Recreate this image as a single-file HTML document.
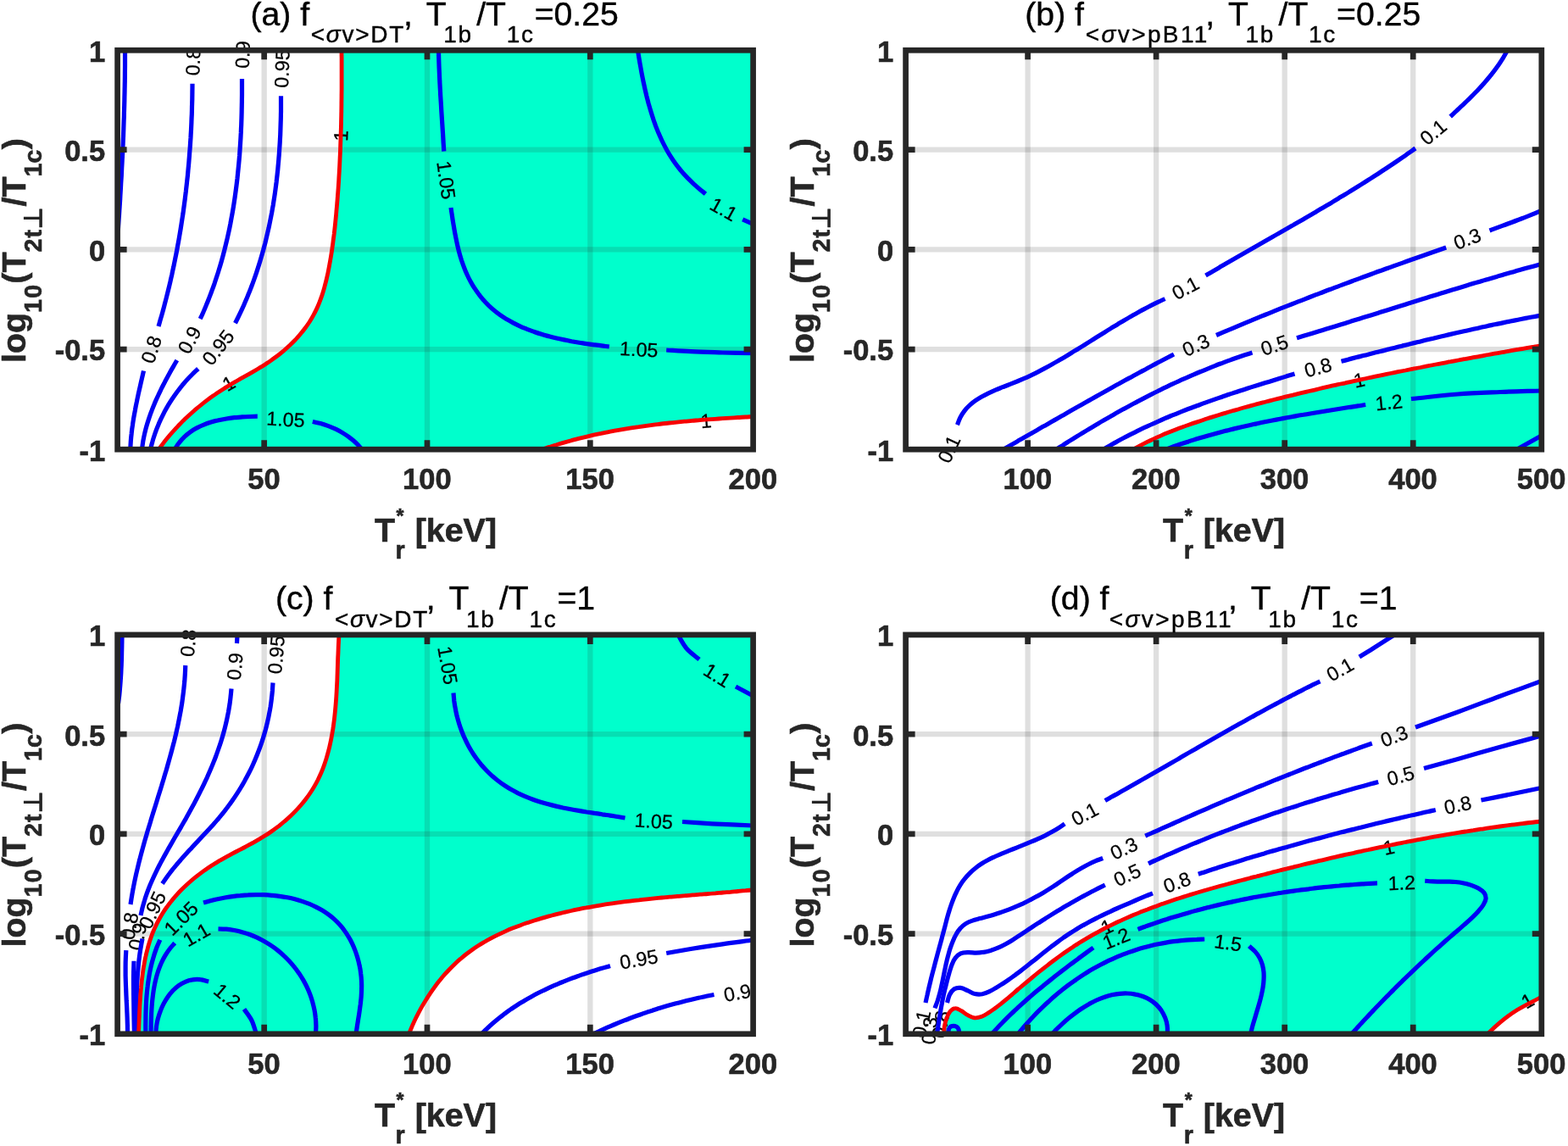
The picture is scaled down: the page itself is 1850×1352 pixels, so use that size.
<!DOCTYPE html>
<html lang="en"><head><meta charset="utf-8"><title>Fusion reactivity enhancement factor contours</title>
<style>html,body{margin:0;padding:0;background:#fff}body{width:1850px;height:1352px;overflow:hidden}svg{display:block}text{font-family:'Liberation Sans', Arial, Helvetica, sans-serif}.tk{font-weight:bold;font-size:34.5px;fill:#262626;stroke:#262626;stroke-width:0.6px}.lb{font-weight:bold;font-size:39.4px;fill:#262626;stroke:#262626;stroke-width:0.6px}.tt{font-size:39.2px;fill:#000;stroke:#000;stroke-width:0.4px}.sb{font-size:28.0px;letter-spacing:1.7px}.ls{font-size:28.6px;letter-spacing:1.2px}.cl{font-size:23.3px;fill:#000;text-anchor:middle;stroke:#000;stroke-width:0.25px}.b{fill:none;stroke:#0000F5;stroke-width:5.2;stroke-linecap:butt;stroke-linejoin:round}.r{fill:none;stroke:#F80000;stroke-width:4.8;stroke-linecap:butt;stroke-linejoin:round}.g{stroke:#262626;stroke-opacity:0.15;stroke-width:6.3;fill:none}.ax{stroke:#262626;stroke-width:6.7;fill:none}</style></head><body>
<svg xmlns="http://www.w3.org/2000/svg" width="1850" height="1352" viewBox="0 0 1850 1352">
<rect width="1850" height="1352" fill="#fff"/>
<g id="panel-a">
<clipPath id="clip-a"><rect x="138.6" y="59.3" width="750" height="470.9"/></clipPath>
<g clip-path="url(#clip-a)">
<path d="M403 59.3C403 62.3 403 65.3 403.1 68.3C403.1 71.3 403.1 74.3 403.1 77.3C403.1 80.4 403.1 83.4 403.1 86.4C403.1 89.4 403.1 92.4 403.1 95.4C403.1 98.5 403.1 101.5 403.1 104.5C403.1 107.5 403 110.5 403 113.5C403 116.6 402.9 119.6 402.9 122.6C402.9 125.6 402.8 128.6 402.8 131.7C402.7 134.7 402.7 137.7 402.6 140.7C402.5 143.8 402.5 146.8 402.4 149.8C402.3 152.8 402.2 155.8 402.1 158.9C402 161.9 402 164.9 401.8 167.9C401.7 170.9 401.6 174 401.5 177C401.4 180 401.3 183 401.1 186C401 189 400.8 192.1 400.7 195.1C400.5 198.1 400.4 201.1 400.2 204.1C400 207.1 399.8 210.1 399.7 213.1C399.5 216.1 399.3 219.1 399.1 222.1C398.9 225.1 398.6 228.2 398.4 231.2C398.2 234.1 398 237.1 397.7 240.1C397.5 243.1 397.2 246.1 396.9 249.1C396.7 252.1 396.4 255.1 396.1 258.1C395.8 261.1 395.5 264.1 395.2 267C394.9 270 394.5 273 394.2 276C393.8 279 393.4 282 393 284.9C392.7 287.9 392.2 290.9 391.8 293.9C391.4 296.9 390.9 299.9 390.4 302.9C389.9 305.9 389.4 308.9 388.8 311.9C388.3 314.9 387.7 317.9 387.1 320.9C386.5 323.9 385.8 326.9 385.1 329.9C384.4 332.9 383.6 335.8 382.8 338.8C382 341.7 381.1 344.7 380.2 347.6C379.2 350.4 378.2 353.3 377.1 356.1C376 358.9 374.9 361.7 373.6 364.4C372.3 367.1 371 369.8 369.5 372.4C368.1 375 366.6 377.5 365 380C363.3 382.5 361.6 385 359.9 387.3C358.1 389.7 356.2 392 354.3 394.3C352.4 396.6 350.4 398.8 348.4 401C346.3 403.1 344.2 405.2 342 407.3C339.8 409.3 337.6 411.3 335.3 413.3C333 415.2 330.7 417.1 328.3 419C325.9 420.8 323.5 422.6 321 424.3C318.6 426.1 316.1 427.8 313.5 429.4C311 431.1 308.4 432.7 305.8 434.2C303.2 435.8 300.6 437.3 298 438.8C295.3 440.4 292.7 441.9 290 443.4C287.4 444.9 284.8 446.3 282.1 447.8C279.5 449.4 276.8 450.9 274.2 452.4C271.6 453.9 269 455.5 266.4 457.1C263.9 458.7 261.3 460.3 258.8 462C256.3 463.6 253.8 465.4 251.3 467.1C248.9 468.8 246.4 470.6 244 472.4C241.6 474.2 239.2 476.1 236.9 478C234.5 479.9 232.2 481.8 229.9 483.7C227.7 485.7 225.4 487.7 223.2 489.7C221 491.8 218.8 493.8 216.6 495.9C214.5 498 212.4 500.2 210.3 502.3C208.2 504.5 206.2 506.7 204.2 509C202.2 511.2 200.2 513.5 198.3 515.8C196.3 518.2 194.4 520.5 192.6 522.9C190.7 525.3 189 527.8 187.2 530.2L639.5 530.2C642.4 529.3 645.2 528.3 648.1 527.4C650.9 526.5 653.8 525.5 656.7 524.7C659.6 523.8 662.5 522.9 665.4 522.1C668.2 521.3 671.1 520.5 674 519.7C677 518.9 679.9 518.1 682.8 517.4C685.7 516.7 688.6 516 691.5 515.3C694.5 514.6 697.4 513.9 700.3 513.2C703.3 512.6 706.2 512 709.1 511.4C712.1 510.7 715 510.2 718 509.6C720.9 509 723.9 508.5 726.9 507.9C729.8 507.4 732.8 506.9 735.8 506.4C738.7 505.9 741.7 505.4 744.7 504.9C747.6 504.4 750.6 504 753.6 503.6C756.6 503.1 759.6 502.7 762.6 502.3C765.5 501.9 768.5 501.5 771.5 501.1C774.5 500.7 777.5 500.4 780.5 500C783.5 499.7 786.5 499.3 789.5 499C792.5 498.7 795.5 498.4 798.5 498.1C801.5 497.8 804.5 497.5 807.5 497.2C810.5 496.9 813.5 496.7 816.5 496.4C819.5 496.1 822.5 495.9 825.5 495.6C828.5 495.4 831.5 495.2 834.6 494.9C837.6 494.7 840.6 494.5 843.6 494.3C846.6 494.1 849.6 493.9 852.6 493.7C855.6 493.5 858.6 493.3 861.6 493.1C864.6 492.9 867.6 492.7 870.6 492.5C873.6 492.3 876.6 492.2 879.6 492C882.6 491.8 885.6 491.7 888.6 491.5L888.6 59.3Z" fill="#00FFCC"/>
<path class="g" d="M311.7 59.3V530.2M504 59.3V530.2M696.3 59.3V530.2"/>
<path class="g" d="M138.6 176.6H888.6M138.6 294.4H888.6M138.6 412.1H888.6"/>
</g>
<text class="cl" transform="translate(228 73) rotate(-88)" y="7.8">0.8</text>
<text class="cl" transform="translate(178.8 412.5) rotate(-72)" y="7.8">0.8</text>
<text class="cl" transform="translate(286.5 64.5) rotate(-88)" y="7.8">0.9</text>
<text class="cl" transform="translate(223.8 401.2) rotate(-62)" y="7.8">0.9</text>
<text class="cl" transform="translate(333 81) rotate(-88)" y="7.8">0.95</text>
<text class="cl" transform="translate(257.5 410) rotate(-52)" y="7.8">0.95</text>
<text class="cl" transform="translate(402.5 160) rotate(-87)" y="7.8">1</text>
<text class="cl" transform="translate(270 452.5) rotate(-30)" y="7.8">1</text>
<text class="cl" transform="translate(526.2 212.5) rotate(82)" y="7.8">1.05</text>
<text class="cl" transform="translate(753.8 412.5) rotate(3)" y="7.8">1.05</text>
<text class="cl" transform="translate(853.8 247) rotate(29)" y="7.8">1.1</text>
<text class="cl" transform="translate(337 495) rotate(3)" y="7.8">1.05</text>
<text class="cl" transform="translate(833 497) rotate(-5)" y="7.8">1</text>
<g clip-path="url(#clip-a)">
<path class="b" d="M147.5 59.3C147.5 62.4 147.5 65.5 147.5 68.6C147.5 71.6 147.5 74.7 147.5 77.8C147.5 80.9 147.4 84 147.4 87.1C147.4 90.2 147.3 93.2 147.3 96.3C147.2 99.4 147.2 102.5 147.1 105.6C147.1 108.7 147 111.8 146.9 114.8C146.9 117.9 146.8 121 146.7 124.1C146.6 127.2 146.5 130.3 146.4 133.3C146.4 136.4 146.3 139.5 146.1 142.6C146 145.7 145.9 148.8 145.8 151.8C145.7 154.9 145.6 158 145.5 161.1C145.3 164.2 145.2 167.3 145.1 170.3C144.9 173.4 144.8 176.5 144.7 179.6C144.5 182.7 144.4 185.8 144.2 188.8C144.1 191.9 143.9 195 143.7 198.1C143.6 201.2 143.4 204.2 143.3 207.3C143.1 210.4 142.9 213.5 142.7 216.6C142.6 219.6 142.4 222.7 142.2 225.8C142 228.9 141.8 232 141.7 235.1C141.5 238.1 141.3 241.2 141.1 244.3C140.9 247.4 140.7 250.4 140.5 253.5C140.3 256.6 140.1 259.7 139.9 262.8C139.7 265.8 139.5 268.9 139.3 272"/>
<path class="b" d="M227 98.8C227 101.8 227 104.8 226.9 107.8C226.9 110.8 226.8 113.9 226.8 116.9C226.7 119.9 226.6 122.9 226.5 125.9C226.5 129 226.4 132 226.3 135C226.1 138 226 141 225.9 144.1C225.8 147.1 225.6 150.1 225.5 153.1C225.3 156.1 225.1 159.1 225 162.2C224.8 165.2 224.6 168.2 224.4 171.2C224.2 174.2 224 177.2 223.7 180.2C223.5 183.3 223.3 186.3 223 189.3C222.8 192.3 222.5 195.3 222.2 198.3C221.9 201.3 221.7 204.3 221.4 207.3C221.1 210.3 220.7 213.3 220.4 216.3C220.1 219.3 219.7 222.3 219.4 225.3C219 228.3 218.7 231.3 218.3 234.3C217.9 237.3 217.5 240.3 217.1 243.3C216.7 246.3 216.3 249.3 215.9 252.3C215.4 255.3 215 258.3 214.5 261.2C214.1 264.2 213.6 267.2 213.1 270.2C212.6 273.2 212.1 276.2 211.6 279.1C211.1 282.1 210.6 285.1 210 288C209.5 291 208.9 294 208.4 296.9C207.8 299.9 207.2 302.9 206.6 305.8C206 308.8 205.4 311.8 204.8 314.7C204.1 317.7 203.5 320.6 202.9 323.6C202.2 326.5 201.5 329.5 200.9 332.4C200.2 335.3 199.5 338.3 198.8 341.2C198.1 344.2 197.3 347.1 196.6 350C195.9 352.9 195.1 355.9 194.3 358.8C193.6 361.7 192.8 364.6 192 367.6C191.2 370.5 190.4 373.4 189.5 376.3C188.7 379.2 187.8 382.1 187 385"/>
<path class="b" d="M169.5 437.5C168.8 440.5 168.1 443.6 167.4 446.6C166.7 449.7 166 452.7 165.3 455.8C164.6 458.9 163.9 461.9 163.2 465C162.6 468 161.9 471.1 161.3 474.2C160.6 477.3 160 480.3 159.5 483.4C158.9 486.5 158.3 489.6 157.8 492.7C157.3 495.7 156.8 498.8 156.4 501.9C155.9 505 155.5 508.1 155.2 511.3C154.8 514.4 154.5 517.5 154.3 520.6C154.1 523.7 153.9 526.9 153.8 530"/>
<path class="b" d="M285.5 93C285.5 96 285.5 99 285.5 102C285.5 105 285.5 108.1 285.5 111.1C285.5 114.1 285.4 117.1 285.4 120.1C285.3 123.1 285.3 126.2 285.2 129.2C285.2 132.2 285.1 135.2 285 138.2C284.9 141.3 284.8 144.3 284.7 147.3C284.5 150.3 284.4 153.3 284.3 156.4C284.1 159.4 284 162.4 283.8 165.4C283.6 168.4 283.4 171.5 283.2 174.5C283 177.5 282.8 180.5 282.6 183.5C282.3 186.5 282.1 189.6 281.8 192.6C281.5 195.6 281.2 198.6 280.9 201.6C280.6 204.6 280.3 207.6 280 210.6C279.6 213.6 279.3 216.6 278.9 219.6C278.5 222.6 278.1 225.6 277.7 228.6C277.3 231.6 276.9 234.6 276.4 237.6C276 240.5 275.5 243.5 275 246.5C274.5 249.5 274 252.4 273.4 255.4C272.9 258.4 272.3 261.3 271.8 264.3C271.2 267.2 270.6 270.2 270 273.1C269.3 276.1 268.7 279 268 282C267.3 284.9 266.6 287.8 265.9 290.7C265.2 293.7 264.4 296.6 263.7 299.5C262.9 302.4 262.1 305.3 261.3 308.2C260.5 311.1 259.6 314 258.7 316.9C257.9 319.8 257 322.6 256 325.5C255.1 328.4 254.1 331.2 253.2 334.1C252.2 337 251.2 339.8 250.1 342.6C249.1 345.5 248 348.3 246.9 351.1C245.8 353.9 244.7 356.8 243.5 359.6C242.4 362.4 241.2 365.1 240 367.9C238.8 370.7 237.5 373.5 236.2 376.2"/>
<path class="b" d="M208.8 425C207.2 427.7 205.6 430.4 204.1 433.2C202.5 435.9 200.9 438.7 199.4 441.4C197.9 444.2 196.4 447 194.9 449.8C193.5 452.6 192 455.4 190.6 458.2C189.2 461.1 187.8 463.9 186.5 466.8C185.1 469.6 183.9 472.5 182.6 475.4C181.4 478.3 180.2 481.3 179.1 484.2C177.9 487.1 176.9 490.1 175.9 493.1C174.9 496.1 173.9 499.1 173.1 502.1C172.2 505.1 171.4 508.2 170.7 511.3C170 514.3 169.4 517.4 168.8 520.6C168.3 523.7 167.9 526.9 167.5 530"/>
<path class="b" d="M331.5 113.2C331.5 116.3 331.5 119.4 331.5 122.4C331.5 125.5 331.5 128.6 331.5 131.6C331.4 134.7 331.4 137.8 331.3 140.8C331.2 143.9 331.1 147 331 150C330.9 153.1 330.8 156.2 330.7 159.3C330.5 162.3 330.4 165.4 330.2 168.5C330 171.5 329.8 174.6 329.6 177.7C329.4 180.7 329.2 183.8 328.9 186.8C328.7 189.9 328.4 193 328.1 196C327.9 199.1 327.6 202.1 327.2 205.2C326.9 208.2 326.5 211.3 326.2 214.3C325.8 217.4 325.4 220.4 325 223.5C324.6 226.5 324.2 229.5 323.7 232.6C323.2 235.6 322.8 238.6 322.3 241.7C321.7 244.7 321.2 247.7 320.7 250.7C320.1 253.7 319.5 256.7 318.9 259.7C318.3 262.7 317.7 265.7 317.1 268.7C316.4 271.7 315.7 274.7 315 277.7C314.3 280.6 313.6 283.6 312.9 286.6C312.1 289.5 311.3 292.5 310.5 295.5C309.7 298.4 308.9 301.3 308 304.3C307.2 307.2 306.3 310.1 305.3 313.1C304.4 316 303.5 318.9 302.5 321.8C301.5 324.7 300.5 327.6 299.5 330.5C298.5 333.4 297.4 336.2 296.3 339.1C295.2 342 294.1 344.8 292.9 347.6C291.8 350.5 290.6 353.3 289.4 356.1C288.1 359 286.9 361.8 285.6 364.6C284.3 367.4 283 370.2 281.6 373C280.3 375.7 278.9 378.5 277.5 381.2"/>
<path class="b" d="M233.8 435C231.5 437.2 229.2 439.3 227 441.5C224.8 443.7 222.6 445.9 220.5 448.2C218.5 450.6 216.4 452.9 214.4 455.3C212.5 457.7 210.6 460.2 208.7 462.7C206.9 465.2 205.1 467.7 203.4 470.3C201.6 472.9 200 475.6 198.4 478.2C196.8 480.9 195.3 483.6 193.8 486.3C192.4 489.1 191 491.9 189.7 494.7C188.4 497.5 187.1 500.4 186 503.3C184.8 506.1 183.7 509.1 182.7 512C181.7 514.9 180.7 517.9 179.9 520.9C179 523.9 178.3 527 177.5 530"/>
<path class="b" d="M517.5 59.3C517.6 62.4 517.6 65.4 517.7 68.5C517.8 71.5 517.9 74.6 518 77.7C518.1 80.7 518.3 83.8 518.4 86.8C518.5 89.9 518.7 92.9 518.8 96C519 99.1 519.1 102.1 519.3 105.2C519.5 108.2 519.6 111.3 519.8 114.3C520 117.4 520.2 120.5 520.4 123.5C520.6 126.6 520.7 129.6 520.9 132.7C521.1 135.7 521.3 138.8 521.5 141.8C521.7 144.9 521.9 147.9 522.1 151C522.3 154.1 522.5 157.1 522.7 160.2C522.9 163.2 523 166.3 523.2 169.3C523.4 172.4 523.6 175.4 523.8 178.5"/>
<path class="b" d="M532 245C532.4 247.9 532.8 250.8 533.3 253.6C533.7 256.6 534.1 259.5 534.6 262.4C535.1 265.4 535.6 268.4 536.1 271.3C536.6 274.3 537.2 277.3 537.8 280.3C538.4 283.3 539 286.3 539.7 289.3C540.4 292.3 541.1 295.3 541.9 298.2C542.7 301.2 543.6 304.1 544.5 307C545.5 309.9 546.5 312.8 547.6 315.6C548.6 318.4 549.8 321.2 551.1 324C552.3 326.7 553.6 329.4 555.1 332C556.5 334.6 558 337.2 559.7 339.7C561.3 342.2 563 344.7 564.8 347C566.5 349.4 568.4 351.7 570.4 353.9C572.3 356.2 574.4 358.3 576.5 360.4C578.6 362.4 580.8 364.4 583.1 366.3C585.4 368.2 587.7 370 590.1 371.7C592.6 373.4 595.1 375 597.6 376.6C600.2 378.1 602.8 379.5 605.4 380.9C608.1 382.3 610.8 383.6 613.5 384.8C616.3 386.1 619 387.2 621.8 388.4C624.6 389.5 627.5 390.5 630.3 391.5C633.2 392.5 636 393.4 638.9 394.3C641.8 395.2 644.8 396 647.7 396.8C650.6 397.6 653.6 398.3 656.6 399C659.5 399.7 662.5 400.3 665.5 400.9C668.5 401.5 671.4 402.1 674.4 402.7C677.4 403.2 680.4 403.7 683.4 404.2C686.4 404.7 689.4 405.1 692.3 405.6C695.3 406 698.3 406.4 701.2 406.8C704.2 407.2 707.1 407.6 710 407.9C712.9 408.3 715.8 408.6 718.8 409"/>
<path class="b" d="M786.2 413C795.8 413.6 805.4 414.3 815 414.7C827.5 415.3 840 415.6 852.5 416C864.5 416.3 876.6 416.5 888.6 416.7"/>
<path class="b" d="M752.5 59.3C753 62.3 753.4 65.3 753.9 68.3C754.4 71.4 754.9 74.4 755.5 77.4C756 80.4 756.5 83.4 757.1 86.4C757.7 89.4 758.3 92.4 758.9 95.4C759.5 98.4 760.2 101.4 760.8 104.4C761.5 107.4 762.2 110.3 762.9 113.3C763.7 116.3 764.4 119.3 765.2 122.2C766.1 125.2 766.9 128.2 767.8 131.1C768.7 134 769.6 137 770.6 139.9C771.5 142.8 772.6 145.7 773.6 148.6C774.7 151.4 775.9 154.3 777 157.1C778.2 159.9 779.5 162.7 780.8 165.5C782.1 168.2 783.5 170.9 784.9 173.6C786.3 176.3 787.8 179 789.4 181.6C791 184.2 792.6 186.7 794.3 189.2C796 191.7 797.8 194.2 799.7 196.6C801.5 199 803.5 201.4 805.5 203.7C807.5 206 809.6 208.2 811.7 210.4C813.9 212.6 816.1 214.7 818.3 216.8C820.6 218.9 822.9 220.9 825.3 222.9C827.6 224.9 830.1 226.8 832.5 228.8"/>
<path class="b" d="M876.2 258.8L888.6 264.5"/>
<path class="b" d="M206.2 530C208 527.4 209.5 524.6 211.5 522.1C213.3 519.7 215.4 517.4 217.6 515.3C219.8 513.3 222.1 511.4 224.6 509.6C227 507.9 229.6 506.3 232.2 504.9C234.9 503.5 237.6 502.2 240.4 501.1C243.2 499.9 246.1 498.9 249 498C252 497.1 255 496.4 258 495.7C261.1 495 264.1 494.5 267.2 494C270.3 493.5 273.4 493.1 276.5 492.7C279.6 492.4 282.7 492.2 285.8 491.9C288.8 491.7 291.9 491.6 294.9 491.5C297.8 491.4 300.8 491.3 303.8 491.2"/>
<path class="b" d="M368.8 497.5C371.9 498.2 375.1 498.8 378.2 499.6C381.3 500.5 384.4 501.5 387.5 502.6C390.5 503.7 393.5 505 396.5 506.4C399.4 507.8 402.2 509.4 405 511.1C407.8 512.8 410.5 514.6 413 516.6C415.6 518.5 418.1 520.6 420.4 522.9C422.7 525.1 424.8 527.6 427 530"/>
<path class="r" d="M403 59.3C403 62.3 403 65.3 403.1 68.3C403.1 71.3 403.1 74.3 403.1 77.3C403.1 80.4 403.1 83.4 403.1 86.4C403.1 89.4 403.1 92.4 403.1 95.4C403.1 98.5 403.1 101.5 403.1 104.5C403.1 107.5 403 110.5 403 113.5C403 116.6 402.9 119.6 402.9 122.6C402.9 125.6 402.8 128.6 402.8 131.7C402.7 134.7 402.7 137.7 402.6 140.7C402.5 143.8 402.5 146.8 402.4 149.8C402.3 152.8 402.2 155.8 402.1 158.9C402 161.9 402 164.9 401.8 167.9C401.7 170.9 401.6 174 401.5 177C401.4 180 401.3 183 401.1 186C401 189 400.8 192.1 400.7 195.1C400.5 198.1 400.4 201.1 400.2 204.1C400 207.1 399.8 210.1 399.7 213.1C399.5 216.1 399.3 219.1 399.1 222.1C398.9 225.1 398.6 228.2 398.4 231.2C398.2 234.1 398 237.1 397.7 240.1C397.5 243.1 397.2 246.1 396.9 249.1C396.7 252.1 396.4 255.1 396.1 258.1C395.8 261.1 395.5 264.1 395.2 267C394.9 270 394.5 273 394.2 276C393.8 279 393.4 282 393 284.9C392.7 287.9 392.2 290.9 391.8 293.9C391.4 296.9 390.9 299.9 390.4 302.9C389.9 305.9 389.4 308.9 388.8 311.9C388.3 314.9 387.7 317.9 387.1 320.9C386.5 323.9 385.8 326.9 385.1 329.9C384.4 332.9 383.6 335.8 382.8 338.8C382 341.7 381.1 344.7 380.2 347.6C379.2 350.4 378.2 353.3 377.1 356.1C376 358.9 374.9 361.7 373.6 364.4C372.3 367.1 371 369.8 369.5 372.4C368.1 375 366.6 377.5 365 380C363.3 382.5 361.6 385 359.9 387.3C358.1 389.7 356.2 392 354.3 394.3C352.4 396.6 350.4 398.8 348.4 401C346.3 403.1 344.2 405.2 342 407.3C339.8 409.3 337.6 411.3 335.3 413.3C333 415.2 330.7 417.1 328.3 419C325.9 420.8 323.5 422.6 321 424.3C318.6 426.1 316.1 427.8 313.5 429.4C311 431.1 308.4 432.7 305.8 434.2C303.2 435.8 300.6 437.3 298 438.8C295.3 440.4 292.7 441.9 290 443.4C287.4 444.9 284.8 446.3 282.1 447.8C279.5 449.4 276.8 450.9 274.2 452.4C271.6 453.9 269 455.5 266.4 457.1C263.9 458.7 261.3 460.3 258.8 462C256.3 463.6 253.8 465.4 251.3 467.1C248.9 468.8 246.4 470.6 244 472.4C241.6 474.2 239.2 476.1 236.9 478C234.5 479.9 232.2 481.8 229.9 483.7C227.7 485.7 225.4 487.7 223.2 489.7C221 491.8 218.8 493.8 216.6 495.9C214.5 498 212.4 500.2 210.3 502.3C208.2 504.5 206.2 506.7 204.2 509C202.2 511.2 200.2 513.5 198.3 515.8C196.3 518.2 194.4 520.5 192.6 522.9C190.7 525.3 189 527.8 187.2 530.2"/>
<path class="r" d="M639.5 530.2C642.4 529.3 645.2 528.3 648.1 527.4C650.9 526.5 653.8 525.5 656.7 524.7C659.6 523.8 662.5 522.9 665.4 522.1C668.2 521.3 671.1 520.5 674 519.7C677 518.9 679.9 518.1 682.8 517.4C685.7 516.7 688.6 516 691.5 515.3C694.5 514.6 697.4 513.9 700.3 513.2C703.3 512.6 706.2 512 709.1 511.4C712.1 510.7 715 510.2 718 509.6C720.9 509 723.9 508.5 726.9 507.9C729.8 507.4 732.8 506.9 735.8 506.4C738.7 505.9 741.7 505.4 744.7 504.9C747.6 504.4 750.6 504 753.6 503.6C756.6 503.1 759.6 502.7 762.6 502.3C765.5 501.9 768.5 501.5 771.5 501.1C774.5 500.7 777.5 500.4 780.5 500C783.5 499.7 786.5 499.3 789.5 499C792.5 498.7 795.5 498.4 798.5 498.1C801.5 497.8 804.5 497.5 807.5 497.2C810.5 496.9 813.5 496.7 816.5 496.4C819.5 496.1 822.5 495.9 825.5 495.6C828.5 495.4 831.5 495.2 834.6 494.9C837.6 494.7 840.6 494.5 843.6 494.3C846.6 494.1 849.6 493.9 852.6 493.7C855.6 493.5 858.6 493.3 861.6 493.1C864.6 492.9 867.6 492.7 870.6 492.5C873.6 492.3 876.6 492.2 879.6 492C882.6 491.8 885.6 491.7 888.6 491.5"/>
</g>
<path class="ax" d="M311.7 59.3v11M311.7 530.2v-11M504 59.3v11M504 530.2v-11M696.3 59.3v11M696.3 530.2v-11M138.6 176.6h11M888.6 176.6h-11M138.6 294.4h11M888.6 294.4h-11M138.6 412.1h11M888.6 412.1h-11" style="stroke-width:6.7"/>
<rect class="ax" x="138.6" y="59.3" width="750" height="470.9"/>
<text class="tk" text-anchor="middle" x="311.5" y="577.1">50</text>
<text class="tk" text-anchor="middle" x="503.8" y="577.1">100</text>
<text class="tk" text-anchor="middle" x="696.1" y="577.1">150</text>
<text class="tk" text-anchor="middle" x="888.4" y="577.1">200</text>
<text class="tk" text-anchor="end" x="124.1" y="72.6">1</text>
<text class="tk" text-anchor="end" x="124.1" y="189.9">0.5</text>
<text class="tk" text-anchor="end" x="124.1" y="307.7">0</text>
<text class="tk" text-anchor="end" x="124.1" y="425.4">-0.5</text>
<text class="tk" text-anchor="end" x="124.1" y="543.5">-1</text>
<text class="lb" x="442" y="639">T<tspan class="ls" dy="20.4" dx="0.5">r</tspan><tspan font-size="23" dy="-42.6" dx="-11.3">*</tspan><tspan dy="22.2" dx="2.2"> [keV]</tspan></text>
<text class="lb" text-anchor="middle" transform="translate(29.6 295.6) rotate(-90)">log<tspan class="ls" dy="19.8">10</tspan><tspan dy="-19.8">(T</tspan><tspan class="ls" dy="19.8">2t⊥</tspan><tspan dy="-19.8">/T</tspan><tspan class="ls" dy="19.8" style="letter-spacing:0.2px">1c</tspan><tspan dy="-19.8">)</tspan></text>
<text class="tt" y="29.7"><tspan x="295.4">(a) f</tspan><tspan class="sb" x="366.8" dy="20.3">&lt;<tspan font-style="italic">σ</tspan>v&gt;DT</tspan><tspan x="476" dy="-20.3">,</tspan><tspan x="502.7">T</tspan><tspan class="sb" x="523.2" dy="20.3">1b</tspan><tspan x="562.2" dy="-20.3">/T</tspan><tspan class="sb" x="597.7" dy="20.3">1c</tspan><tspan x="630.7" dy="-20.3">=0.25</tspan></text>
</g>
<g id="panel-b">
<clipPath id="clip-b"><rect x="1068.6" y="59.3" width="750.2" height="470.9"/></clipPath>
<g clip-path="url(#clip-b)">
<path d="M1337 530.2C1339.6 528.7 1342.3 527.2 1344.9 525.8C1347.6 524.4 1350.3 523 1353 521.7C1355.7 520.4 1358.4 519.1 1361.1 517.8C1363.9 516.5 1366.6 515.3 1369.4 514.1C1372.1 512.9 1374.9 511.7 1377.7 510.6C1380.5 509.5 1383.3 508.4 1386.1 507.3C1388.9 506.2 1391.7 505.1 1394.6 504.1C1397.4 503 1400.2 502 1403.1 501C1405.9 500 1408.8 499 1411.6 498.1C1414.5 497.1 1417.4 496.1 1420.2 495.2C1423.1 494.3 1426 493.3 1428.9 492.4C1431.7 491.5 1434.6 490.6 1437.5 489.7C1440.4 488.8 1443.3 487.9 1446.2 487.1C1449.1 486.2 1452 485.4 1454.9 484.5C1457.8 483.7 1460.8 482.9 1463.7 482C1466.6 481.2 1469.5 480.4 1472.4 479.6C1475.3 478.8 1478.3 478 1481.2 477.2C1484.1 476.5 1487.1 475.7 1490 474.9C1492.9 474.1 1495.9 473.4 1498.8 472.6C1501.7 471.9 1504.7 471.1 1507.6 470.4C1510.5 469.7 1513.5 468.9 1516.4 468.2C1519.4 467.5 1522.3 466.8 1525.3 466.1C1528.2 465.3 1531.1 464.6 1534.1 463.9C1537 463.2 1540 462.5 1542.9 461.8C1545.9 461.1 1548.8 460.4 1551.8 459.8C1554.7 459.1 1557.7 458.4 1560.6 457.7C1563.6 457 1566.5 456.4 1569.5 455.7C1572.4 455 1575.4 454.4 1578.3 453.7C1581.3 453.1 1584.2 452.4 1587.2 451.8C1590.1 451.1 1593.1 450.5 1596 449.8C1599 449.2 1601.9 448.6 1604.9 447.9C1607.8 447.3 1610.8 446.7 1613.8 446C1616.7 445.4 1619.7 444.8 1622.6 444.2C1625.6 443.6 1628.6 443 1631.5 442.3C1634.5 441.7 1637.4 441.1 1640.4 440.5C1643.4 439.9 1646.3 439.3 1649.3 438.7C1652.2 438.1 1655.2 437.5 1658.2 437C1661.1 436.4 1664.1 435.8 1667.1 435.2C1670 434.6 1673 434 1676 433.5C1678.9 432.9 1681.9 432.3 1684.9 431.7C1687.8 431.2 1690.8 430.6 1693.8 430C1696.7 429.5 1699.7 428.9 1702.7 428.3C1705.6 427.8 1708.6 427.2 1711.6 426.7C1714.6 426.1 1717.5 425.6 1720.5 425C1723.5 424.5 1726.4 423.9 1729.4 423.4C1732.4 422.8 1735.4 422.3 1738.3 421.7C1741.3 421.2 1744.3 420.7 1747.3 420.1C1750.2 419.6 1753.2 419 1756.2 418.5C1759.2 418 1762.1 417.4 1765.1 416.9C1768.1 416.4 1771.1 415.8 1774.1 415.3C1777 414.8 1780 414.3 1783 413.7C1786 413.2 1789 412.7 1791.9 412.2C1794.9 411.6 1797.9 411.1 1800.9 410.6C1803.9 410.1 1806.9 409.6 1809.8 409.1C1812.8 408.5 1815.8 408 1818.8 407.5L1818.8 530.2Z" fill="#00FFCC"/>
<path class="g" d="M1212.6 59.3V530.2M1364.1 59.3V530.2M1515.7 59.3V530.2M1667.2 59.3V530.2"/>
<path class="g" d="M1068.6 176.6H1818.8M1068.6 294.4H1818.8M1068.6 412.1H1818.8"/>
</g>
<text class="cl" transform="translate(1120 530) rotate(-65)" y="7.8">0.1</text>
<text class="cl" transform="translate(1398.8 340) rotate(-28)" y="7.8">0.1</text>
<text class="cl" transform="translate(1691.2 156.2) rotate(-40)" y="7.8">0.1</text>
<text class="cl" transform="translate(1411.2 407.5) rotate(-24)" y="7.8">0.3</text>
<text class="cl" transform="translate(1731.2 282) rotate(-20)" y="7.8">0.3</text>
<text class="cl" transform="translate(1503.8 407.5) rotate(-18)" y="7.8">0.5</text>
<text class="cl" transform="translate(1555 433.8) rotate(-15)" y="7.8">0.8</text>
<text class="cl" transform="translate(1603.8 448.8) rotate(-12)" y="7.8">1</text>
<text class="cl" transform="translate(1638.8 475) rotate(-6)" y="7.8">1.2</text>
<g clip-path="url(#clip-b)">
<path class="b" d="M1129.5 501.2C1130.7 498.2 1131.6 495.1 1133.1 492.2C1134.5 489.5 1136.2 487 1138 484.6C1139.8 482.3 1141.8 480.2 1144 478.2C1146.1 476.2 1148.4 474.4 1150.8 472.7C1153.2 471 1155.7 469.5 1158.3 468C1160.9 466.6 1163.6 465.2 1166.3 463.9C1169 462.6 1171.7 461.4 1174.5 460.2C1177.3 459 1180.1 457.9 1183 456.7C1185.8 455.6 1188.7 454.5 1191.5 453.3C1194.4 452.2 1197.2 451.1 1200 450C1202.9 448.8 1205.7 447.6 1208.5 446.4C1211.3 445.2 1214 443.9 1216.8 442.6C1219.5 441.3 1222.2 440 1224.9 438.6C1227.6 437.2 1230.3 435.8 1232.9 434.4C1235.6 432.9 1238.2 431.5 1240.9 430C1243.5 428.5 1246.1 427 1248.8 425.5C1251.4 424 1254 422.4 1256.6 420.9C1259.2 419.4 1261.8 417.8 1264.3 416.2C1266.9 414.6 1269.5 413.1 1272.1 411.5C1274.7 409.9 1277.2 408.3 1279.8 406.7C1282.4 405.1 1285 403.5 1287.5 401.9C1290.1 400.3 1292.7 398.6 1295.2 397C1297.8 395.4 1300.4 393.8 1303 392.2C1305.5 390.6 1308.1 389 1310.7 387.4C1313.3 385.8 1315.9 384.3 1318.5 382.7C1321.1 381.1 1323.7 379.6 1326.3 378C1328.9 376.5 1331.5 375 1334.1 373.4C1336.8 371.9 1339.4 370.4 1342 369C1344.7 367.5 1347.3 366 1350 364.6C1352.7 363.2 1355.4 361.8 1358.1 360.4C1360.8 359 1363.5 357.7 1366.2 356.4C1369 355 1371.7 353.8 1374.5 352.5"/>
<path class="b" d="M1422.5 325C1425.1 323.5 1427.7 321.9 1430.3 320.4C1432.9 318.9 1435.5 317.4 1438.1 315.9C1440.7 314.4 1443.3 312.8 1445.9 311.3C1448.6 309.8 1451.2 308.3 1453.8 306.8C1456.4 305.3 1459 303.8 1461.6 302.3C1464.2 300.8 1466.9 299.3 1469.5 297.8C1472.1 296.3 1474.7 294.8 1477.3 293.3C1479.9 291.8 1482.6 290.3 1485.2 288.8C1487.8 287.3 1490.4 285.8 1493 284.3C1495.7 282.8 1498.3 281.3 1500.9 279.8C1503.5 278.3 1506.1 276.8 1508.8 275.3C1511.4 273.8 1514 272.3 1516.6 270.8C1519.2 269.3 1521.8 267.8 1524.4 266.3C1527.1 264.8 1529.7 263.3 1532.3 261.8C1534.9 260.3 1537.5 258.8 1540.1 257.2C1542.7 255.7 1545.3 254.2 1547.9 252.7C1550.5 251.2 1553.1 249.6 1555.7 248.1C1558.3 246.6 1560.9 245 1563.5 243.5C1566.1 242 1568.7 240.4 1571.3 238.9C1573.9 237.3 1576.4 235.8 1579 234.2C1581.6 232.6 1584.2 231.1 1586.8 229.5C1589.3 227.9 1591.9 226.4 1594.5 224.8C1597 223.2 1599.6 221.6 1602.2 220C1604.7 218.4 1607.3 216.8 1609.8 215.2C1612.4 213.6 1614.9 212 1617.5 210.4C1620 208.7 1622.5 207.1 1625.1 205.5C1627.6 203.8 1630.1 202.2 1632.6 200.5C1635.2 198.9 1637.7 197.2 1640.2 195.5C1642.7 193.9 1645.2 192.2 1647.7 190.5C1650.2 188.8 1652.7 187.1 1655.2 185.4C1657.6 183.7 1660.1 182 1662.6 180.2C1665.1 178.5 1667.5 176.7 1670 175"/>
<path class="b" d="M1711.2 137.5C1713.5 135.4 1715.8 133.2 1718.1 131.1C1720.4 129 1722.7 126.8 1725 124.7C1727.3 122.5 1729.5 120.3 1731.8 118.1C1734 115.9 1736.3 113.7 1738.5 111.5C1740.7 109.2 1742.9 107 1745 104.7C1747.2 102.4 1749.3 100 1751.4 97.7C1753.5 95.3 1755.5 92.9 1757.5 90.5C1759.5 88.1 1761.4 85.6 1763.3 83.1C1765.2 80.6 1767 78.1 1768.8 75.5C1770.5 72.9 1772.2 70.2 1773.9 67.5C1775.5 64.8 1777 62 1778.5 59.3"/>
<path class="b" d="M1184 530C1186.7 528.5 1189.3 527 1192 525.4C1194.7 523.9 1197.3 522.4 1200 520.9C1202.7 519.4 1205.3 517.8 1208 516.3C1210.7 514.8 1213.3 513.3 1216 511.8C1218.6 510.2 1221.3 508.7 1224 507.2C1226.6 505.7 1229.3 504.1 1232 502.6C1234.6 501.1 1237.3 499.6 1239.9 498C1242.6 496.5 1245.3 495 1247.9 493.5C1250.6 491.9 1253.3 490.4 1255.9 488.9C1258.6 487.4 1261.2 485.9 1263.9 484.3C1266.6 482.8 1269.2 481.3 1271.9 479.8C1274.6 478.3 1277.2 476.8 1279.9 475.2C1282.6 473.7 1285.3 472.2 1287.9 470.7C1290.6 469.2 1293.3 467.7 1295.9 466.2C1298.6 464.7 1301.3 463.2 1304 461.7C1306.7 460.2 1309.3 458.7 1312 457.2C1314.7 455.7 1317.4 454.2 1320.1 452.8C1322.8 451.3 1325.4 449.8 1328.1 448.3C1330.8 446.8 1333.5 445.4 1336.2 443.9C1338.9 442.4 1341.6 441 1344.3 439.5C1347 438.1 1349.7 436.6 1352.4 435.2C1355.1 433.7 1357.8 432.3 1360.5 430.8C1363.2 429.4 1365.9 427.9 1368.7 426.5C1371.4 425.1 1374.1 423.7 1376.8 422.2C1379.5 420.8 1382.3 419.4 1385 418"/>
<path class="b" d="M1435 395.5C1437.8 394.3 1440.6 393.1 1443.3 391.9C1446.1 390.7 1448.9 389.5 1451.7 388.4C1454.5 387.2 1457.3 386 1460.1 384.8C1462.8 383.7 1465.6 382.5 1468.4 381.3C1471.2 380.2 1474 379 1476.8 377.9C1479.6 376.7 1482.4 375.6 1485.2 374.4C1488 373.3 1490.8 372.1 1493.6 371C1496.4 369.9 1499.2 368.7 1502 367.6C1504.8 366.5 1507.6 365.3 1510.4 364.2C1513.3 363.1 1516.1 362 1518.9 360.9C1521.7 359.8 1524.5 358.7 1527.3 357.6C1530.1 356.5 1533 355.4 1535.8 354.3C1538.6 353.2 1541.4 352.1 1544.2 351C1547.1 349.9 1549.9 348.8 1552.7 347.7C1555.5 346.6 1558.4 345.6 1561.2 344.5C1564 343.4 1566.8 342.3 1569.7 341.3C1572.5 340.2 1575.3 339.1 1578.2 338.1C1581 337 1583.8 336 1586.7 334.9C1589.5 333.8 1592.3 332.8 1595.2 331.7C1598 330.7 1600.8 329.6 1603.7 328.6C1606.5 327.6 1609.4 326.5 1612.2 325.5C1615 324.4 1617.9 323.4 1620.7 322.4C1623.6 321.3 1626.4 320.3 1629.3 319.3C1632.1 318.2 1635 317.2 1637.8 316.2C1640.6 315.2 1643.5 314.2 1646.3 313.1C1649.2 312.1 1652 311.1 1654.9 310.1C1657.7 309.1 1660.6 308 1663.4 307C1666.3 306 1669.1 305 1672 304C1674.8 303 1677.7 302 1680.6 301C1683.4 300 1686.3 299 1689.1 298C1692 297 1694.8 296 1697.7 295C1700.5 294 1703.4 293 1706.2 292"/>
<path class="b" d="M1757.5 272C1770 267.3 1782.5 262.8 1795 258C1802.9 255 1810.7 251.7 1818.6 248.5"/>
<path class="b" d="M1246.5 530C1249.1 528.4 1251.7 526.7 1254.3 525.1C1256.8 523.4 1259.4 521.8 1262 520.1C1264.6 518.5 1267.3 516.9 1269.9 515.3C1272.5 513.7 1275.1 512.1 1277.7 510.5C1280.3 508.9 1283 507.3 1285.6 505.7C1288.3 504.1 1290.9 502.5 1293.5 501C1296.2 499.4 1298.8 497.8 1301.5 496.3C1304.2 494.7 1306.8 493.2 1309.5 491.7C1312.2 490.2 1314.8 488.6 1317.5 487.1C1320.2 485.6 1322.9 484.1 1325.6 482.6C1328.3 481.2 1331 479.7 1333.7 478.2C1336.4 476.8 1339.1 475.3 1341.8 473.9C1344.6 472.4 1347.3 471 1350 469.6C1352.8 468.2 1355.5 466.8 1358.2 465.4C1361 464 1363.7 462.6 1366.5 461.2C1369.3 459.9 1372 458.5 1374.8 457.2C1377.6 455.9 1380.3 454.5 1383.1 453.2C1385.9 451.9 1388.7 450.6 1391.5 449.3C1394.3 448.1 1397.1 446.8 1399.9 445.6C1402.7 444.3 1405.5 443.1 1408.4 441.9C1411.2 440.6 1414 439.4 1416.9 438.3C1419.7 437.1 1422.6 435.9 1425.4 434.8C1428.3 433.6 1431.1 432.5 1434 431.4C1436.8 430.2 1439.7 429.2 1442.6 428.1C1445.5 427 1448.4 425.9 1451.3 424.9C1454.2 423.8 1457.1 422.8 1460 421.8C1462.9 420.8 1465.8 419.8 1468.7 418.8C1471.6 417.9 1474.6 416.9 1477.5 416"/>
<path class="b" d="M1530 398.8C1532.9 397.9 1535.8 397 1538.8 396.1C1541.7 395.2 1544.6 394.4 1547.5 393.5C1550.4 392.6 1553.3 391.7 1556.2 390.8C1559.1 389.9 1562.1 389 1565 388.1C1567.9 387.2 1570.8 386.4 1573.7 385.5C1576.6 384.6 1579.5 383.7 1582.4 382.8C1585.3 381.9 1588.3 381 1591.2 380.1C1594.1 379.1 1597 378.2 1599.9 377.3C1602.8 376.4 1605.7 375.5 1608.6 374.6C1611.5 373.7 1614.4 372.8 1617.3 371.9C1620.2 371 1623.1 370.1 1626.1 369.2C1629 368.3 1631.9 367.3 1634.8 366.4C1637.7 365.5 1640.6 364.6 1643.5 363.7C1646.4 362.8 1649.3 361.9 1652.2 361C1655.1 360.1 1658 359.2 1660.9 358.2C1663.8 357.3 1666.7 356.4 1669.7 355.5C1672.6 354.6 1675.5 353.7 1678.4 352.8C1681.3 351.9 1684.2 351 1687.1 350.1C1690 349.2 1692.9 348.3 1695.8 347.4C1698.7 346.5 1701.7 345.6 1704.6 344.7C1707.5 343.8 1710.4 342.9 1713.3 342C1716.2 341.2 1719.1 340.3 1722 339.4C1725 338.5 1727.9 337.6 1730.8 336.7C1733.7 335.9 1736.6 335 1739.5 334.1C1742.5 333.2 1745.4 332.4 1748.3 331.5C1751.2 330.6 1754.1 329.8 1757.1 328.9C1760 328.1 1762.9 327.2 1765.8 326.4C1768.8 325.5 1771.7 324.7 1774.6 323.8C1777.5 323 1780.5 322.1 1783.4 321.3C1786.3 320.5 1789.2 319.6 1792.2 318.8C1795.1 318 1798 317.2 1801 316.3C1803.9 315.5 1806.8 314.7 1809.8 313.9C1812.7 313.1 1815.7 312.3 1818.6 311.5"/>
<path class="b" d="M1302 530C1304.6 528.5 1307.2 526.9 1309.8 525.5C1312.4 524 1315 522.5 1317.7 521.1C1320.3 519.6 1322.9 518.2 1325.6 516.8C1328.2 515.4 1330.9 514 1333.6 512.6C1336.2 511.3 1338.9 510 1341.6 508.6C1344.3 507.3 1347 506 1349.7 504.7C1352.4 503.5 1355.2 502.2 1357.9 501C1360.6 499.7 1363.3 498.5 1366.1 497.3C1368.8 496.1 1371.6 494.9 1374.3 493.7C1377.1 492.5 1379.9 491.4 1382.6 490.2C1385.4 489.1 1388.2 488 1391 486.8C1393.8 485.7 1396.5 484.6 1399.3 483.5C1402.1 482.5 1404.9 481.4 1407.8 480.3C1410.6 479.3 1413.4 478.2 1416.2 477.2C1419 476.2 1421.8 475.1 1424.7 474.1C1427.5 473.1 1430.3 472.1 1433.2 471.1C1436 470.1 1438.8 469.2 1441.7 468.2C1444.5 467.2 1447.4 466.3 1450.2 465.3C1453.1 464.4 1455.9 463.4 1458.8 462.5C1461.6 461.5 1464.5 460.6 1467.4 459.7C1470.2 458.8 1473.1 457.8 1475.9 456.9C1478.8 456 1481.7 455.1 1484.5 454.2C1487.4 453.3 1490.3 452.4 1493.1 451.5C1496 450.7 1498.9 449.8 1501.7 448.9C1504.6 448 1507.5 447.1 1510.3 446.2C1513.2 445.4 1516 444.5 1518.9 443.6C1521.8 442.7 1524.6 441.9 1527.5 441"/>
<path class="b" d="M1582.5 426.2C1585.5 425.5 1588.5 424.7 1591.5 423.9C1594.5 423.2 1597.5 422.4 1600.5 421.6C1603.6 420.8 1606.6 420.1 1609.6 419.3C1612.6 418.5 1615.6 417.8 1618.6 417C1621.6 416.2 1624.6 415.5 1627.6 414.7C1630.7 414 1633.7 413.2 1636.7 412.4C1639.7 411.7 1642.7 410.9 1645.7 410.2C1648.7 409.4 1651.8 408.7 1654.8 407.9C1657.8 407.2 1660.8 406.5 1663.8 405.7C1666.8 405 1669.9 404.2 1672.9 403.5C1675.9 402.8 1678.9 402 1681.9 401.3C1685 400.6 1688 399.9 1691 399.2C1694 398.4 1697 397.7 1700.1 397C1703.1 396.3 1706.1 395.6 1709.1 394.9C1712.2 394.2 1715.2 393.5 1718.2 392.8C1721.3 392.1 1724.3 391.4 1727.3 390.7C1730.4 390.1 1733.4 389.4 1736.4 388.7C1739.4 388 1742.5 387.4 1745.5 386.7C1748.6 386 1751.6 385.4 1754.6 384.7C1757.7 384.1 1760.7 383.4 1763.7 382.8C1766.8 382.2 1769.8 381.5 1772.9 380.9C1775.9 380.3 1779 379.7 1782 379C1785 378.4 1788.1 377.8 1791.1 377.2C1794.2 376.6 1797.2 376 1800.3 375.4C1803.3 374.8 1806.4 374.3 1809.4 373.7C1812.5 373.1 1815.5 372.6 1818.6 372"/>
<path class="b" d="M1376 530C1378.9 528.9 1381.8 527.9 1384.7 526.8C1387.6 525.8 1390.6 524.8 1393.5 523.8C1396.4 522.8 1399.4 521.8 1402.3 520.9C1405.2 519.9 1408.2 519 1411.1 518.1C1414.1 517.2 1417.1 516.3 1420 515.5C1423 514.6 1426 513.7 1428.9 512.9C1431.9 512.1 1434.9 511.3 1437.9 510.5C1440.9 509.7 1443.9 508.9 1446.9 508.1C1449.9 507.4 1452.9 506.6 1455.9 505.9C1458.9 505.2 1461.9 504.5 1464.9 503.8C1467.9 503.1 1471 502.4 1474 501.7C1477 501 1480 500.4 1483.1 499.7C1486.1 499.1 1489.1 498.5 1492.2 497.8C1495.2 497.2 1498.2 496.6 1501.3 496C1504.3 495.4 1507.4 494.8 1510.4 494.2C1513.5 493.7 1516.5 493.1 1519.6 492.5C1522.6 492 1525.7 491.4 1528.7 490.9C1531.8 490.3 1534.8 489.8 1537.9 489.3C1540.9 488.7 1544 488.2 1547.1 487.7C1550.1 487.2 1553.2 486.7 1556.2 486.2C1559.3 485.7 1562.4 485.2 1565.4 484.7C1568.5 484.2 1571.5 483.7 1574.6 483.2C1577.7 482.7 1580.7 482.3 1583.8 481.8C1586.8 481.3 1589.9 480.8 1592.9 480.3C1596 479.9 1599 479.4 1602.1 478.9C1605.1 478.4 1608.2 478 1611.2 477.5"/>
<path class="b" d="M1665 470.5C1683.3 468.7 1701.6 466.4 1720 465C1736.6 463.7 1753.3 463.2 1770 462.5C1786.2 461.8 1802.4 461.5 1818.6 461"/>
<path class="b" d="M1790 530L1818.6 514"/>
<path class="r" d="M1337 530.2C1339.6 528.7 1342.3 527.2 1344.9 525.8C1347.6 524.4 1350.3 523 1353 521.7C1355.7 520.4 1358.4 519.1 1361.1 517.8C1363.9 516.5 1366.6 515.3 1369.4 514.1C1372.1 512.9 1374.9 511.7 1377.7 510.6C1380.5 509.5 1383.3 508.4 1386.1 507.3C1388.9 506.2 1391.7 505.1 1394.6 504.1C1397.4 503 1400.2 502 1403.1 501C1405.9 500 1408.8 499 1411.6 498.1C1414.5 497.1 1417.4 496.1 1420.2 495.2C1423.1 494.3 1426 493.3 1428.9 492.4C1431.7 491.5 1434.6 490.6 1437.5 489.7C1440.4 488.8 1443.3 487.9 1446.2 487.1C1449.1 486.2 1452 485.4 1454.9 484.5C1457.8 483.7 1460.8 482.9 1463.7 482C1466.6 481.2 1469.5 480.4 1472.4 479.6C1475.3 478.8 1478.3 478 1481.2 477.2C1484.1 476.5 1487.1 475.7 1490 474.9C1492.9 474.1 1495.9 473.4 1498.8 472.6C1501.7 471.9 1504.7 471.1 1507.6 470.4C1510.5 469.7 1513.5 468.9 1516.4 468.2C1519.4 467.5 1522.3 466.8 1525.3 466.1C1528.2 465.3 1531.1 464.6 1534.1 463.9C1537 463.2 1540 462.5 1542.9 461.8C1545.9 461.1 1548.8 460.4 1551.8 459.8C1554.7 459.1 1557.7 458.4 1560.6 457.7C1563.6 457 1566.5 456.4 1569.5 455.7C1572.4 455 1575.4 454.4 1578.3 453.7C1581.3 453.1 1584.2 452.4 1587.2 451.8C1590.1 451.1 1593.1 450.5 1596 449.8C1599 449.2 1601.9 448.6 1604.9 447.9C1607.8 447.3 1610.8 446.7 1613.8 446C1616.7 445.4 1619.7 444.8 1622.6 444.2C1625.6 443.6 1628.6 443 1631.5 442.3C1634.5 441.7 1637.4 441.1 1640.4 440.5C1643.4 439.9 1646.3 439.3 1649.3 438.7C1652.2 438.1 1655.2 437.5 1658.2 437C1661.1 436.4 1664.1 435.8 1667.1 435.2C1670 434.6 1673 434 1676 433.5C1678.9 432.9 1681.9 432.3 1684.9 431.7C1687.8 431.2 1690.8 430.6 1693.8 430C1696.7 429.5 1699.7 428.9 1702.7 428.3C1705.6 427.8 1708.6 427.2 1711.6 426.7C1714.6 426.1 1717.5 425.6 1720.5 425C1723.5 424.5 1726.4 423.9 1729.4 423.4C1732.4 422.8 1735.4 422.3 1738.3 421.7C1741.3 421.2 1744.3 420.7 1747.3 420.1C1750.2 419.6 1753.2 419 1756.2 418.5C1759.2 418 1762.1 417.4 1765.1 416.9C1768.1 416.4 1771.1 415.8 1774.1 415.3C1777 414.8 1780 414.3 1783 413.7C1786 413.2 1789 412.7 1791.9 412.2C1794.9 411.6 1797.9 411.1 1800.9 410.6C1803.9 410.1 1806.9 409.6 1809.8 409.1C1812.8 408.5 1815.8 408 1818.8 407.5"/>
</g>
<path class="ax" d="M1212.6 59.3v11M1212.6 530.2v-11M1364.1 59.3v11M1364.1 530.2v-11M1515.7 59.3v11M1515.7 530.2v-11M1667.2 59.3v11M1667.2 530.2v-11M1068.6 176.6h11M1818.8 176.6h-11M1068.6 294.4h11M1818.8 294.4h-11M1068.6 412.1h11M1818.8 412.1h-11" style="stroke-width:6.7"/>
<rect class="ax" x="1068.6" y="59.3" width="750.2" height="470.9"/>
<text class="tk" text-anchor="middle" x="1212.4" y="577.1">100</text>
<text class="tk" text-anchor="middle" x="1363.9" y="577.1">200</text>
<text class="tk" text-anchor="middle" x="1515.5" y="577.1">300</text>
<text class="tk" text-anchor="middle" x="1667" y="577.1">400</text>
<text class="tk" text-anchor="middle" x="1818.6" y="577.1">500</text>
<text class="tk" text-anchor="end" x="1054.1" y="72.6">1</text>
<text class="tk" text-anchor="end" x="1054.1" y="189.9">0.5</text>
<text class="tk" text-anchor="end" x="1054.1" y="307.7">0</text>
<text class="tk" text-anchor="end" x="1054.1" y="425.4">-0.5</text>
<text class="tk" text-anchor="end" x="1054.1" y="543.5">-1</text>
<text class="lb" x="1372.1" y="639">T<tspan class="ls" dy="20.4" dx="0.5">r</tspan><tspan font-size="23" dy="-42.6" dx="-11.3">*</tspan><tspan dy="22.2" dx="2.2"> [keV]</tspan></text>
<text class="lb" text-anchor="middle" transform="translate(959.6 295.6) rotate(-90)">log<tspan class="ls" dy="19.8">10</tspan><tspan dy="-19.8">(T</tspan><tspan class="ls" dy="19.8">2t⊥</tspan><tspan dy="-19.8">/T</tspan><tspan class="ls" dy="19.8" style="letter-spacing:0.2px">1c</tspan><tspan dy="-19.8">)</tspan></text>
<text class="tt" y="29.7"><tspan x="1209.3">(b) f</tspan><tspan class="sb" style="letter-spacing:2.4px" x="1280.7" dy="20.3">&lt;<tspan font-style="italic">σ</tspan>v&gt;pB11</tspan><tspan x="1422.3" dy="-20.3">,</tspan><tspan x="1449.1">T</tspan><tspan class="sb" x="1469.5" dy="20.3">1b</tspan><tspan x="1508.5" dy="-20.3">/T</tspan><tspan class="sb" x="1544" dy="20.3">1c</tspan><tspan x="1577.1" dy="-20.3">=0.25</tspan></text>
</g>
<g id="panel-c">
<clipPath id="clip-c"><rect x="138.6" y="748.9" width="750" height="470.9"/></clipPath>
<g clip-path="url(#clip-c)">
<path d="M400 748.9C399.8 751.9 399.6 754.9 399.5 757.8C399.3 760.8 399.2 763.8 399.1 766.8C399 769.8 398.9 772.9 398.7 775.9C398.6 778.9 398.5 782 398.4 785C398.3 788 398.2 791.1 398.1 794.1C398 797.2 397.9 800.2 397.8 803.3C397.6 806.4 397.5 809.4 397.3 812.5C397.2 815.6 397 818.6 396.8 821.7C396.6 824.8 396.4 827.8 396.1 830.9C395.9 834 395.6 837 395.3 840.1C395 843.2 394.7 846.2 394.3 849.3C393.9 852.4 393.5 855.4 393.1 858.5C392.6 861.5 392.1 864.6 391.5 867.6C391 870.7 390.4 873.7 389.7 876.7C389.1 879.7 388.4 882.7 387.6 885.7C386.8 888.7 386 891.7 385.1 894.6C384.2 897.5 383.3 900.4 382.2 903.3C381.2 906.1 380.1 909 378.9 911.8C377.7 914.5 376.4 917.3 375.1 920C373.7 922.7 372.3 925.3 370.8 927.9C369.3 930.5 367.7 933 366 935.5C364.3 938 362.6 940.4 360.8 942.8C359 945.2 357.1 947.5 355.1 949.8C353.2 952 351.2 954.3 349.1 956.4C347 958.6 344.9 960.7 342.7 962.8C340.5 964.9 338.2 966.9 335.9 968.8C333.6 970.8 331.3 972.7 328.9 974.6C326.5 976.4 324 978.3 321.5 980C319 981.8 316.5 983.5 313.9 985.1C311.3 986.8 308.7 988.4 306.1 989.9C303.4 991.5 300.7 993 298.1 994.5C295.4 995.9 292.6 997.4 289.9 998.8C287.2 1000.3 284.4 1001.7 281.7 1003.1C279 1004.5 276.2 1006 273.5 1007.4C270.8 1008.9 268.1 1010.3 265.4 1011.8C262.7 1013.3 260 1014.8 257.4 1016.4C254.7 1018 252.1 1019.6 249.5 1021.3C247 1023 244.4 1024.7 241.9 1026.4C239.4 1028.2 237 1030 234.5 1031.9C232.1 1033.7 229.7 1035.6 227.4 1037.5C225.1 1039.5 222.8 1041.5 220.6 1043.5C218.3 1045.6 216.2 1047.6 214 1049.8C211.9 1051.9 209.9 1054.1 207.9 1056.3C205.9 1058.6 203.9 1060.8 202.1 1063.2C200.2 1065.5 198.4 1067.9 196.7 1070.3C194.9 1072.7 193.3 1075.2 191.7 1077.7C190.1 1080.3 188.6 1082.9 187.2 1085.5C185.8 1088.1 184.4 1090.8 183.2 1093.5C181.9 1096.2 180.7 1099 179.6 1101.8C178.6 1104.7 177.6 1107.6 176.6 1110.5C175.7 1113.4 174.8 1116.3 174.1 1119.3C173.3 1122.3 172.5 1125.3 171.9 1128.3C171.2 1131.4 170.6 1134.4 170.1 1137.5C169.5 1140.6 169 1143.7 168.6 1146.8C168.2 1149.9 167.8 1153 167.4 1156.1C167.1 1159.3 166.7 1162.4 166.5 1165.5C166.2 1168.6 165.9 1171.7 165.7 1174.9C165.5 1178 165.3 1181 165.1 1184.1C164.9 1187.2 164.8 1190.3 164.6 1193.3C164.5 1196.3 164.4 1199.3 164.2 1202.4C164.1 1205.3 164 1208.2 163.9 1211.2C163.8 1214.1 163.6 1216.9 163.5 1219.8L482.5 1219.8C483.6 1217 484.7 1214.3 485.9 1211.5C487.1 1208.8 488.3 1206 489.6 1203.3C490.9 1200.6 492.3 1197.9 493.7 1195.2C495.1 1192.5 496.5 1189.9 498 1187.2C499.5 1184.6 501.1 1182 502.7 1179.4C504.3 1176.8 505.9 1174.3 507.6 1171.8C509.3 1169.3 511.1 1166.8 512.9 1164.3C514.7 1161.9 516.5 1159.5 518.4 1157.1C520.3 1154.8 522.2 1152.4 524.2 1150.2C526.2 1147.9 528.3 1145.7 530.4 1143.5C532.4 1141.4 534.6 1139.2 536.7 1137.2C538.9 1135.1 541.1 1133.1 543.4 1131.2C545.7 1129.2 548 1127.3 550.3 1125.5C552.7 1123.7 555.1 1121.9 557.5 1120.2C559.9 1118.5 562.4 1116.9 564.9 1115.3C567.4 1113.7 570 1112.2 572.5 1110.7C575.1 1109.2 577.7 1107.8 580.4 1106.4C583 1105 585.7 1103.6 588.4 1102.4C591 1101.1 593.8 1099.8 596.5 1098.6C599.2 1097.4 602 1096.2 604.8 1095.1C607.6 1094 610.4 1092.9 613.2 1091.9C616 1090.8 618.8 1089.8 621.7 1088.8C624.5 1087.9 627.4 1086.9 630.3 1086C633.1 1085.1 636 1084.2 638.9 1083.4C641.8 1082.5 644.7 1081.7 647.6 1080.9C650.5 1080.1 653.4 1079.4 656.3 1078.6C659.2 1077.9 662.1 1077.2 665 1076.5C668 1075.8 670.9 1075.1 673.8 1074.5C676.8 1073.8 679.7 1073.2 682.6 1072.6C685.6 1072 688.5 1071.4 691.5 1070.9C694.4 1070.3 697.4 1069.8 700.4 1069.3C703.3 1068.8 706.3 1068.3 709.2 1067.8C712.2 1067.3 715.2 1066.8 718.2 1066.4C721.1 1066 724.1 1065.5 727.1 1065.1C730.1 1064.7 733.1 1064.3 736 1063.9C739 1063.5 742 1063.2 745 1062.8C748 1062.4 751 1062.1 754 1061.8C757 1061.4 760 1061.1 763 1060.8C766 1060.5 769 1060.2 772 1059.9C775 1059.6 778 1059.3 781 1059C784 1058.7 787 1058.5 790 1058.2C793 1057.9 796 1057.7 799 1057.4C802 1057.2 805 1056.9 808 1056.7C811 1056.4 814 1056.2 817 1055.9C820 1055.7 823 1055.4 826 1055.2C829 1055 832 1054.7 835 1054.5C837.9 1054.2 840.9 1054 843.9 1053.8C846.9 1053.5 849.9 1053.3 852.9 1053C855.9 1052.8 858.9 1052.5 861.8 1052.3C864.8 1052 867.8 1051.8 870.8 1051.5C873.8 1051.2 876.7 1050.9 879.7 1050.7C882.7 1050.4 885.6 1050.1 888.6 1049.8L888.6 748.9Z" fill="#00FFCC"/>
<path class="g" d="M311.7 748.9V1219.8M504 748.9V1219.8M696.3 748.9V1219.8"/>
<path class="g" d="M138.6 866.2H888.6M138.6 983.9H888.6M138.6 1101.7H888.6"/>
</g>
<text class="cl" transform="translate(222.5 758.8) rotate(-85)" y="7.8">0.8</text>
<text class="cl" transform="translate(153 1092.5) rotate(-80)" y="7.8">0.8</text>
<text class="cl" transform="translate(277.5 786.2) rotate(-85)" y="7.8">0.9</text>
<text class="cl" transform="translate(162.5 1105) rotate(-78)" y="7.8">0.9</text>
<text class="cl" transform="translate(326.2 772.5) rotate(-85)" y="7.8">0.95</text>
<text class="cl" transform="translate(180 1073.8) rotate(-65)" y="7.8">0.95</text>
<text class="cl" transform="translate(528 785) rotate(80)" y="7.8">1.05</text>
<text class="cl" transform="translate(771.2 969) rotate(3)" y="7.8">1.05</text>
<text class="cl" transform="translate(846.2 797) rotate(32)" y="7.8">1.1</text>
<text class="cl" transform="translate(753.8 1132) rotate(-10)" y="7.8">0.95</text>
<text class="cl" transform="translate(870 1171.5) rotate(-10)" y="7.8">0.9</text>
<text class="cl" transform="translate(213.8 1083.8) rotate(-45)" y="7.8">1.05</text>
<text class="cl" transform="translate(231.9 1103) rotate(-30)" y="7.8">1.1</text>
<text class="cl" transform="translate(268 1175.5) rotate(40)" y="7.8">1.2</text>
<g clip-path="url(#clip-c)">
<path class="b" d="M144 749C144 752 143.9 755 143.9 758C143.8 761 143.8 764 143.7 767C143.6 770 143.6 773 143.5 776C143.4 779.1 143.3 782.1 143.2 785.1C143 788.1 142.9 791.1 142.8 794.1C142.6 797.1 142.4 800.1 142.2 803.1C142 806.1 141.8 809.1 141.5 812.1C141.3 815.1 141 818.1 140.7 821C140.3 824 140 827 139.6 830"/>
<path class="b" d="M218.8 785C218.6 788.1 218.6 791.1 218.4 794.2C218.2 797.2 218 800.2 217.8 803.3C217.5 806.3 217.2 809.3 216.9 812.3C216.6 815.3 216.2 818.3 215.8 821.3C215.5 824.3 215 827.3 214.6 830.3C214.1 833.3 213.6 836.3 213.1 839.2C212.5 842.2 212 845.2 211.4 848.1C210.8 851.1 210.2 854 209.6 857C208.9 859.9 208.3 862.8 207.6 865.8C206.9 868.7 206.2 871.6 205.5 874.6C204.7 877.5 204 880.4 203.2 883.3C202.4 886.2 201.6 889.2 200.8 892.1C200 895 199.2 897.9 198.4 900.8C197.6 903.7 196.7 906.6 195.9 909.5C195 912.4 194.2 915.3 193.3 918.2C192.4 921.1 191.5 924 190.7 926.8C189.8 929.7 188.9 932.6 188 935.5C187.1 938.4 186.2 941.3 185.3 944.2C184.4 947.1 183.5 950 182.6 952.9C181.7 955.7 180.8 958.6 179.9 961.5C179 964.4 178.1 967.3 177.3 970.2C176.4 973.1 175.5 976 174.6 978.9C173.8 981.8 172.9 984.7 172.1 987.6C171.2 990.5 170.4 993.4 169.6 996.3C168.8 999.2 168 1002.1 167.2 1005C166.4 1008 165.6 1010.9 164.9 1013.8C164.1 1016.7 163.4 1019.6 162.7 1022.6C162 1025.5 161.3 1028.5 160.6 1031.4C160 1034.3 159.3 1037.3 158.7 1040.2C158.1 1043.2 157.5 1046.2 157 1049.1C156.4 1052.1 155.9 1055.1 155.4 1058C154.9 1061 154.5 1064 154 1067"/>
<path class="b" d="M148.8 1121.2C148.6 1124.5 148.4 1127.8 148.3 1131.1C148.1 1134.4 148.1 1137.7 148.1 1141C148.1 1144.3 148.1 1147.6 148.1 1150.9C148.2 1154.2 148.3 1157.5 148.4 1160.7C148.5 1164 148.7 1167.3 148.8 1170.6C148.9 1173.9 149.1 1177.2 149.2 1180.5C149.4 1183.8 149.6 1187.1 149.7 1190.4C149.8 1193.7 150 1197 150.1 1200.2C150.2 1203.5 150.3 1206.8 150.4 1210.1C150.5 1213.4 150.5 1216.7 150.5 1220"/>
<path class="b" d="M280 749L279.5 759"/>
<path class="b" d="M273 812.5C272.7 815.6 272.5 818.6 272.1 821.7C271.8 824.8 271.4 827.8 271 830.8C270.5 833.8 270 836.8 269.5 839.8C268.9 842.8 268.3 845.8 267.7 848.7C267 851.7 266.4 854.6 265.6 857.6C264.9 860.5 264.1 863.4 263.3 866.3C262.5 869.2 261.6 872.1 260.7 875C259.8 877.8 258.8 880.7 257.8 883.5C256.8 886.4 255.8 889.2 254.8 892C253.7 894.8 252.6 897.6 251.5 900.4C250.4 903.2 249.2 906 248 908.8C246.8 911.5 245.6 914.3 244.4 917.1C243.1 919.8 241.8 922.5 240.5 925.3C239.2 928 237.9 930.7 236.5 933.4C235.2 936.1 233.8 938.8 232.4 941.5C231 944.2 229.6 946.9 228.2 949.6C226.7 952.3 225.3 954.9 223.8 957.6C222.3 960.3 220.9 962.9 219.4 965.6C217.9 968.2 216.3 970.9 214.8 973.5C213.3 976.1 211.8 978.8 210.2 981.4C208.7 984 207.2 986.6 205.6 989.3C204.1 991.9 202.6 994.5 201.1 997.1C199.5 999.8 198 1002.4 196.6 1005.1C195.1 1007.7 193.6 1010.3 192.2 1013C190.7 1015.7 189.3 1018.3 187.9 1021C186.5 1023.7 185.2 1026.4 183.9 1029.1C182.6 1031.8 181.3 1034.5 180.1 1037.2C178.8 1040 177.7 1042.7 176.5 1045.5C175.4 1048.3 174.3 1051.1 173.3 1053.9C172.3 1056.7 171.3 1059.6 170.5 1062.4C169.6 1065.3 168.8 1068.2 168 1071.1C167.3 1074.1 166.7 1077 166 1080"/>
<path class="b" d="M158 1133.8C157.8 1140.8 157.5 1147.9 157.5 1155C157.5 1169.7 157.8 1184.3 158 1199C158.1 1206 158.3 1213 158.5 1220"/>
<path class="b" d="M322 805.5C321.8 808.6 321.6 811.8 321.4 814.9C321.1 818 320.8 821.1 320.4 824.2C320.1 827.3 319.6 830.4 319.2 833.4C318.7 836.5 318.1 839.5 317.5 842.6C317 845.6 316.3 848.6 315.6 851.6C314.9 854.6 314.2 857.6 313.4 860.6C312.6 863.6 311.7 866.5 310.8 869.5C309.9 872.4 309 875.3 308 878.2C307 881.1 305.9 884 304.8 886.8C303.7 889.7 302.6 892.5 301.4 895.3C300.2 898.2 298.9 901 297.7 903.7C296.4 906.5 295 909.3 293.6 912C292.2 914.7 290.8 917.4 289.3 920.1C287.9 922.8 286.3 925.4 284.8 928C283.2 930.7 281.6 933.3 279.9 935.9C278.3 938.4 276.6 941 274.8 943.5C273.1 946 271.3 948.5 269.4 951C267.6 953.5 265.7 955.9 263.8 958.3C261.9 960.7 259.9 963.1 258 965.5C256 967.8 253.9 970.1 251.9 972.5C249.8 974.8 247.7 977.1 245.7 979.3C243.6 981.6 241.4 983.9 239.3 986.1C237.2 988.4 235.1 990.7 233 992.9C230.8 995.2 228.7 997.4 226.6 999.7C224.5 1002 222.4 1004.2 220.3 1006.5C218.2 1008.8 216.1 1011.1 214.1 1013.4C212.1 1015.7 210 1018 208.1 1020.4C206.1 1022.8 204.1 1025.1 202.2 1027.6C200.4 1030 198.5 1032.4 196.7 1034.9C194.9 1037.4 193.2 1040 191.5 1042.5"/>
<path class="b" d="M168 1107.5C167.4 1110.6 166.8 1113.7 166.3 1116.8C165.7 1119.9 165.3 1123 164.8 1126.1C164.4 1129.2 164 1132.3 163.7 1135.4C163.4 1138.5 163.1 1141.6 162.8 1144.8C162.5 1147.9 162.3 1151 162.1 1154.1C161.9 1157.3 161.8 1160.4 161.6 1163.5C161.5 1166.7 161.4 1169.8 161.3 1172.9C161.2 1176.1 161.1 1179.2 161.1 1182.4C161 1185.5 161 1188.6 161 1191.8C161 1194.9 161 1198 161 1201.2C161 1204.3 161 1207.5 161 1210.6C161 1213.7 161 1216.9 161 1220"/>
<path class="b" d="M535 817.5C535.3 820.6 535.5 823.7 535.8 826.8C536.2 829.9 536.7 833 537.3 836C537.8 839.1 538.5 842.1 539.2 845.2C540 848.2 540.9 851.2 541.8 854.2C542.7 857.2 543.8 860.1 544.9 863C546 865.9 547.2 868.8 548.6 871.6C549.9 874.5 551.2 877.2 552.7 880C554.2 882.7 555.8 885.4 557.4 888C559.1 890.6 560.8 893.1 562.6 895.6C564.4 898 566.4 900.4 568.3 902.8C570.3 905.1 572.4 907.3 574.5 909.5C576.6 911.7 578.8 913.7 581.1 915.8C583.4 917.8 585.7 919.7 588.1 921.5C590.5 923.4 593 925.2 595.5 926.8C598.1 928.5 600.6 930.1 603.3 931.6C605.9 933.1 608.6 934.5 611.3 935.9C614.1 937.2 616.8 938.5 619.7 939.7C622.5 940.9 625.3 942 628.2 943C631.1 944.1 634.1 945.1 637 946C640 946.9 643 947.8 646 948.6C649 949.4 652 950.2 655.1 950.9C658.1 951.6 661.2 952.3 664.3 953C667.3 953.6 670.4 954.2 673.5 954.8C676.6 955.4 679.7 955.9 682.8 956.4C685.9 957 689 957.5 692.2 958C695.2 958.4 698.3 958.9 701.4 959.4C704.5 959.8 707.6 960.3 710.6 960.8C713.7 961.2 716.7 961.7 719.7 962.1C722.7 962.6 725.7 963 728.7 963.5C731.6 964 734.6 964.5 737.5 965"/>
<path class="b" d="M805 969.5C816.7 970.2 828.3 971.1 840 971.8C856.2 972.6 872.4 973.2 888.6 974"/>
<path class="b" d="M800 749C803.3 754.3 805.9 760.2 810 765C814.3 770 820 773.7 825 778"/>
<path class="b" d="M868 810L888.6 821"/>
<path class="b" d="M568 1220C570.2 1217.8 572.3 1215.6 574.6 1213.5C576.8 1211.4 579.1 1209.3 581.4 1207.3C583.7 1205.3 586 1203.4 588.4 1201.4C590.8 1199.5 593.2 1197.7 595.6 1195.8C598 1194 600.5 1192.3 603 1190.5C605.5 1188.8 608.1 1187.1 610.6 1185.5C613.2 1183.8 615.8 1182.3 618.4 1180.7C621 1179.1 623.7 1177.6 626.3 1176.2C629 1174.7 631.7 1173.2 634.4 1171.8C637.1 1170.4 639.9 1169.1 642.6 1167.8C645.4 1166.4 648.1 1165.2 650.9 1163.9C653.7 1162.7 656.5 1161.4 659.3 1160.3C662.2 1159.1 665 1157.9 667.8 1156.8C670.7 1155.7 673.5 1154.6 676.4 1153.5C679.3 1152.5 682.2 1151.4 685.1 1150.4C688 1149.4 690.9 1148.4 693.8 1147.5C696.7 1146.5 699.6 1145.6 702.5 1144.7C705.4 1143.8 708.3 1142.9 711.2 1142.1C714.2 1141.2 717.1 1140.4 720 1139.5"/>
<path class="b" d="M786.2 1124.5C795.8 1122.8 805.4 1121.1 815 1119.5C827.5 1117.5 840 1115.5 852.5 1113.8C864.5 1112 876.6 1110.6 888.6 1109"/>
<path class="b" d="M699.5 1220.1C702.3 1218.7 705.2 1217.4 708 1216.1C710.9 1214.8 713.7 1213.5 716.6 1212.2C719.5 1211 722.4 1209.7 725.3 1208.5C728.2 1207.3 731.1 1206.1 734 1204.9C736.9 1203.8 739.9 1202.7 742.8 1201.5C745.7 1200.4 748.7 1199.3 751.6 1198.3C754.6 1197.2 757.6 1196.2 760.5 1195.1C763.5 1194.1 766.5 1193.1 769.5 1192.2C772.5 1191.2 775.5 1190.3 778.5 1189.3C781.5 1188.4 784.5 1187.5 787.5 1186.6C790.5 1185.8 793.6 1184.9 796.6 1184.1C799.6 1183.3 802.7 1182.5 805.7 1181.7C808.8 1180.9 811.8 1180.2 814.9 1179.4C817.9 1178.7 821 1178 824.1 1177.3C827.1 1176.6 830.2 1176 833.3 1175.3C836.3 1174.7 839.4 1174.1 842.5 1173.5"/>
<path class="b" d="M171.9 1220C171.9 1216.9 171.8 1213.7 171.8 1210.6C171.8 1207.5 171.9 1204.3 171.9 1201.2C171.9 1198 172 1194.9 172.1 1191.7C172.2 1188.6 172.3 1185.4 172.5 1182.2C172.7 1179.1 172.9 1175.9 173.2 1172.8C173.5 1169.6 173.8 1166.5 174.2 1163.3C174.5 1160.2 175 1157.1 175.5 1154C176 1150.8 176.5 1147.7 177.2 1144.7C177.8 1141.6 178.5 1138.5 179.3 1135.5C180.1 1132.4 181 1129.4 181.9 1126.4C182.9 1123.4 183.9 1120.4 185 1117.5C186.2 1114.5 187.5 1111.7 188.8 1108.8"/>
<path class="b" d="M240 1065C242.7 1064.2 245.4 1063.4 248.1 1062.7C250.9 1062 253.7 1061.3 256.6 1060.7C259.5 1060.1 262.4 1059.5 265.3 1059C268.3 1058.5 271.3 1058 274.3 1057.6C277.3 1057.2 280.3 1056.8 283.4 1056.6C286.5 1056.3 289.6 1056 292.7 1055.9C295.8 1055.7 298.9 1055.6 302 1055.6C305.1 1055.6 308.2 1055.6 311.3 1055.7C314.4 1055.8 317.6 1056 320.7 1056.3C323.7 1056.6 326.8 1056.9 329.9 1057.3C332.9 1057.7 336 1058.2 339 1058.8C342 1059.4 345 1060.1 347.9 1060.8C350.8 1061.6 353.7 1062.4 356.6 1063.4C359.4 1064.3 362.2 1065.3 365 1066.4C367.7 1067.5 370.4 1068.8 373 1070.1C375.6 1071.4 378.2 1072.8 380.7 1074.3C383.1 1075.8 385.6 1077.5 387.9 1079.2C390.2 1080.9 392.4 1082.7 394.6 1084.7C396.7 1086.6 398.8 1088.7 400.7 1090.8C402.7 1093 404.6 1095.3 406.3 1097.7C408.1 1100.1 409.7 1102.6 411.2 1105.2C412.8 1107.8 414.2 1110.4 415.5 1113.2C416.8 1115.9 418 1118.8 419.1 1121.6C420.2 1124.5 421.1 1127.5 422 1130.4C422.9 1133.4 423.6 1136.4 424.2 1139.4C424.9 1142.4 425.4 1145.5 425.7 1148.5C426.1 1151.5 426.4 1154.6 426.5 1157.6C426.7 1160.6 426.7 1163.6 426.6 1166.6C426.6 1169.6 426.4 1172.6 426.2 1175.6C426 1178.5 425.6 1181.5 425.3 1184.5C424.9 1187.4 424.5 1190.4 424.1 1193.3C423.7 1196.3 423.2 1199.3 422.7 1202.2C422.3 1205.2 421.8 1208.1 421.3 1211.1C420.9 1214.1 420.4 1217 420 1220"/>
<path class="b" d="M178 1220C178.1 1217 178.1 1214 178.2 1210.9C178.2 1207.8 178.3 1204.7 178.4 1201.6C178.5 1198.4 178.6 1195.2 178.8 1192.1C179 1188.9 179.2 1185.7 179.5 1182.5C179.8 1179.2 180.2 1176 180.6 1172.8C181 1169.6 181.5 1166.4 182.1 1163.3C182.7 1160.1 183.4 1157 184.2 1153.9C185 1150.8 185.9 1147.8 186.9 1144.8C188 1141.8 189.1 1138.8 190.4 1136C191.7 1133.1 193.1 1130.3 194.7 1127.6C196.3 1124.9 198.1 1122.2 200 1119.7C201.9 1117.2 204.2 1114.9 206.2 1112.5"/>
<path class="b" d="M257.5 1095.8C260.7 1095.9 263.9 1096 267.1 1096.2C270.2 1096.5 273.4 1097 276.5 1097.5C279.6 1098.1 282.7 1098.8 285.7 1099.7C288.7 1100.5 291.7 1101.4 294.7 1102.5C297.6 1103.6 300.5 1104.8 303.4 1106.1C306.2 1107.5 309 1108.9 311.7 1110.4C314.5 1112 317.1 1113.6 319.7 1115.4C322.3 1117.1 324.9 1119 327.3 1120.9C329.8 1122.9 332.2 1124.9 334.5 1127.1C336.8 1129.2 339 1131.4 341.2 1133.7C343.3 1136 345.3 1138.4 347.3 1140.8C349.3 1143.3 351.1 1145.8 352.9 1148.4C354.6 1151 356.3 1153.6 357.9 1156.4C359.4 1159.1 360.9 1161.9 362.2 1164.7C363.5 1167.5 364.8 1170.4 365.9 1173.4C367 1176.3 367.9 1179.3 368.8 1182.3C369.6 1185.3 370.4 1188.4 371 1191.5C371.6 1194.6 372 1197.7 372.3 1200.8C372.7 1204 372.8 1207.2 372.9 1210.4C372.9 1213.6 372.6 1216.8 372.5 1220"/>
<path class="b" d="M183.8 1220C184 1217 184.1 1214 184.5 1211.1C184.9 1208 185.5 1204.9 186.3 1201.9C187.1 1198.8 188.1 1195.7 189.3 1192.7C190.4 1189.7 191.7 1186.8 193.2 1183.9C194.7 1181.1 196.4 1178.3 198.2 1175.7C200 1173.2 202 1170.8 204.1 1168.5C206.2 1166.4 208.5 1164.3 210.9 1162.6C213.3 1160.9 215.9 1159.4 218.6 1158.3C221.3 1157.1 224.2 1156.3 227.1 1155.9C230.1 1155.4 233.2 1155.3 236.3 1155.7C239.7 1156 242.9 1157.2 246.2 1158"/>
<path class="b" d="M288 1190.5C291 1195 294.6 1199.1 297 1204C299.5 1209.1 300.7 1214.7 302.5 1220"/>
<path class="r" d="M400 748.9C399.8 751.9 399.6 754.9 399.5 757.8C399.3 760.8 399.2 763.8 399.1 766.8C399 769.8 398.9 772.9 398.7 775.9C398.6 778.9 398.5 782 398.4 785C398.3 788 398.2 791.1 398.1 794.1C398 797.2 397.9 800.2 397.8 803.3C397.6 806.4 397.5 809.4 397.3 812.5C397.2 815.6 397 818.6 396.8 821.7C396.6 824.8 396.4 827.8 396.1 830.9C395.9 834 395.6 837 395.3 840.1C395 843.2 394.7 846.2 394.3 849.3C393.9 852.4 393.5 855.4 393.1 858.5C392.6 861.5 392.1 864.6 391.5 867.6C391 870.7 390.4 873.7 389.7 876.7C389.1 879.7 388.4 882.7 387.6 885.7C386.8 888.7 386 891.7 385.1 894.6C384.2 897.5 383.3 900.4 382.2 903.3C381.2 906.1 380.1 909 378.9 911.8C377.7 914.5 376.4 917.3 375.1 920C373.7 922.7 372.3 925.3 370.8 927.9C369.3 930.5 367.7 933 366 935.5C364.3 938 362.6 940.4 360.8 942.8C359 945.2 357.1 947.5 355.1 949.8C353.2 952 351.2 954.3 349.1 956.4C347 958.6 344.9 960.7 342.7 962.8C340.5 964.9 338.2 966.9 335.9 968.8C333.6 970.8 331.3 972.7 328.9 974.6C326.5 976.4 324 978.3 321.5 980C319 981.8 316.5 983.5 313.9 985.1C311.3 986.8 308.7 988.4 306.1 989.9C303.4 991.5 300.7 993 298.1 994.5C295.4 995.9 292.6 997.4 289.9 998.8C287.2 1000.3 284.4 1001.7 281.7 1003.1C279 1004.5 276.2 1006 273.5 1007.4C270.8 1008.9 268.1 1010.3 265.4 1011.8C262.7 1013.3 260 1014.8 257.4 1016.4C254.7 1018 252.1 1019.6 249.5 1021.3C247 1023 244.4 1024.7 241.9 1026.4C239.4 1028.2 237 1030 234.5 1031.9C232.1 1033.7 229.7 1035.6 227.4 1037.5C225.1 1039.5 222.8 1041.5 220.6 1043.5C218.3 1045.6 216.2 1047.6 214 1049.8C211.9 1051.9 209.9 1054.1 207.9 1056.3C205.9 1058.6 203.9 1060.8 202.1 1063.2C200.2 1065.5 198.4 1067.9 196.7 1070.3C194.9 1072.7 193.3 1075.2 191.7 1077.7C190.1 1080.3 188.6 1082.9 187.2 1085.5C185.8 1088.1 184.4 1090.8 183.2 1093.5C181.9 1096.2 180.7 1099 179.6 1101.8C178.6 1104.7 177.6 1107.6 176.6 1110.5C175.7 1113.4 174.8 1116.3 174.1 1119.3C173.3 1122.3 172.5 1125.3 171.9 1128.3C171.2 1131.4 170.6 1134.4 170.1 1137.5C169.5 1140.6 169 1143.7 168.6 1146.8C168.2 1149.9 167.8 1153 167.4 1156.1C167.1 1159.3 166.7 1162.4 166.5 1165.5C166.2 1168.6 165.9 1171.7 165.7 1174.9C165.5 1178 165.3 1181 165.1 1184.1C164.9 1187.2 164.8 1190.3 164.6 1193.3C164.5 1196.3 164.4 1199.3 164.2 1202.4C164.1 1205.3 164 1208.2 163.9 1211.2C163.8 1214.1 163.6 1216.9 163.5 1219.8"/>
<path class="r" d="M482.5 1219.8C483.6 1217 484.7 1214.3 485.9 1211.5C487.1 1208.8 488.3 1206 489.6 1203.3C490.9 1200.6 492.3 1197.9 493.7 1195.2C495.1 1192.5 496.5 1189.9 498 1187.2C499.5 1184.6 501.1 1182 502.7 1179.4C504.3 1176.8 505.9 1174.3 507.6 1171.8C509.3 1169.3 511.1 1166.8 512.9 1164.3C514.7 1161.9 516.5 1159.5 518.4 1157.1C520.3 1154.8 522.2 1152.4 524.2 1150.2C526.2 1147.9 528.3 1145.7 530.4 1143.5C532.4 1141.4 534.6 1139.2 536.7 1137.2C538.9 1135.1 541.1 1133.1 543.4 1131.2C545.7 1129.2 548 1127.3 550.3 1125.5C552.7 1123.7 555.1 1121.9 557.5 1120.2C559.9 1118.5 562.4 1116.9 564.9 1115.3C567.4 1113.7 570 1112.2 572.5 1110.7C575.1 1109.2 577.7 1107.8 580.4 1106.4C583 1105 585.7 1103.6 588.4 1102.4C591 1101.1 593.8 1099.8 596.5 1098.6C599.2 1097.4 602 1096.2 604.8 1095.1C607.6 1094 610.4 1092.9 613.2 1091.9C616 1090.8 618.8 1089.8 621.7 1088.8C624.5 1087.9 627.4 1086.9 630.3 1086C633.1 1085.1 636 1084.2 638.9 1083.4C641.8 1082.5 644.7 1081.7 647.6 1080.9C650.5 1080.1 653.4 1079.4 656.3 1078.6C659.2 1077.9 662.1 1077.2 665 1076.5C668 1075.8 670.9 1075.1 673.8 1074.5C676.8 1073.8 679.7 1073.2 682.6 1072.6C685.6 1072 688.5 1071.4 691.5 1070.9C694.4 1070.3 697.4 1069.8 700.4 1069.3C703.3 1068.8 706.3 1068.3 709.2 1067.8C712.2 1067.3 715.2 1066.8 718.2 1066.4C721.1 1066 724.1 1065.5 727.1 1065.1C730.1 1064.7 733.1 1064.3 736 1063.9C739 1063.5 742 1063.2 745 1062.8C748 1062.4 751 1062.1 754 1061.8C757 1061.4 760 1061.1 763 1060.8C766 1060.5 769 1060.2 772 1059.9C775 1059.6 778 1059.3 781 1059C784 1058.7 787 1058.5 790 1058.2C793 1057.9 796 1057.7 799 1057.4C802 1057.2 805 1056.9 808 1056.7C811 1056.4 814 1056.2 817 1055.9C820 1055.7 823 1055.4 826 1055.2C829 1055 832 1054.7 835 1054.5C837.9 1054.2 840.9 1054 843.9 1053.8C846.9 1053.5 849.9 1053.3 852.9 1053C855.9 1052.8 858.9 1052.5 861.8 1052.3C864.8 1052 867.8 1051.8 870.8 1051.5C873.8 1051.2 876.7 1050.9 879.7 1050.7C882.7 1050.4 885.6 1050.1 888.6 1049.8"/>
</g>
<path class="ax" d="M311.7 748.9v11M311.7 1219.8v-11M504 748.9v11M504 1219.8v-11M696.3 748.9v11M696.3 1219.8v-11M138.6 866.2h11M888.6 866.2h-11M138.6 983.9h11M888.6 983.9h-11M138.6 1101.7h11M888.6 1101.7h-11" style="stroke-width:6.7"/>
<rect class="ax" x="138.6" y="748.9" width="750" height="470.9"/>
<text class="tk" text-anchor="middle" x="311.5" y="1266.7">50</text>
<text class="tk" text-anchor="middle" x="503.8" y="1266.7">100</text>
<text class="tk" text-anchor="middle" x="696.1" y="1266.7">150</text>
<text class="tk" text-anchor="middle" x="888.4" y="1266.7">200</text>
<text class="tk" text-anchor="end" x="124.1" y="762.2">1</text>
<text class="tk" text-anchor="end" x="124.1" y="879.5">0.5</text>
<text class="tk" text-anchor="end" x="124.1" y="997.2">0</text>
<text class="tk" text-anchor="end" x="124.1" y="1115">-0.5</text>
<text class="tk" text-anchor="end" x="124.1" y="1233.1">-1</text>
<text class="lb" x="442" y="1328.6">T<tspan class="ls" dy="20.4" dx="0.5">r</tspan><tspan font-size="23" dy="-42.6" dx="-11.3">*</tspan><tspan dy="22.2" dx="2.2"> [keV]</tspan></text>
<text class="lb" text-anchor="middle" transform="translate(29.6 985.1) rotate(-90)">log<tspan class="ls" dy="19.8">10</tspan><tspan dy="-19.8">(T</tspan><tspan class="ls" dy="19.8">2t⊥</tspan><tspan dy="-19.8">/T</tspan><tspan class="ls" dy="19.8" style="letter-spacing:0.2px">1c</tspan><tspan dy="-19.8">)</tspan></text>
<text class="tt" y="719.3"><tspan x="324.9">(c) f</tspan><tspan class="sb" x="394.9" dy="20.3">&lt;<tspan font-style="italic">σ</tspan>v&gt;DT</tspan><tspan x="502.7" dy="-20.3">,</tspan><tspan x="529.4">T</tspan><tspan class="sb" x="549.9" dy="20.3">1b</tspan><tspan x="588.9" dy="-20.3">/T</tspan><tspan class="sb" x="624.4" dy="20.3">1c</tspan><tspan x="657.4" dy="-20.3">=1</tspan></text>
</g>
<g id="panel-d">
<clipPath id="clip-d"><rect x="1068.6" y="748.9" width="750.2" height="470.9"/></clipPath>
<g clip-path="url(#clip-d)">
<path d="M1113.8 1219.8C1113.9 1216.9 1113.8 1213.9 1114.3 1211C1114.9 1207.6 1115.6 1204.3 1116.9 1201.2C1117.9 1198.3 1119.1 1195.4 1121.1 1193.1C1122.6 1191.5 1124.7 1189.8 1127 1189.7C1129.5 1189.5 1131.8 1191.2 1134 1192.4C1136.8 1193.9 1139.1 1196.2 1141.9 1197.7C1144.5 1199.1 1147.2 1200.6 1150.1 1200.9C1152.9 1201.2 1155.7 1200.3 1158.3 1199.3C1161.1 1198.2 1163.6 1196.5 1166.2 1194.9C1168.8 1193.3 1171.2 1191.5 1173.7 1189.7C1176.1 1188 1178.5 1186.1 1180.8 1184.3C1183.2 1182.4 1185.5 1180.5 1187.8 1178.6C1190.1 1176.7 1192.3 1174.7 1194.6 1172.8C1196.9 1170.8 1199.2 1168.9 1201.4 1166.9C1203.7 1165 1206 1163 1208.3 1161.1C1210.6 1159.1 1213 1157.2 1215.3 1155.3C1217.6 1153.4 1220 1151.4 1222.3 1149.5C1224.6 1147.6 1227 1145.7 1229.4 1143.9C1231.7 1142 1234.1 1140.1 1236.5 1138.3C1238.9 1136.4 1241.3 1134.6 1243.8 1132.8C1246.2 1131 1248.6 1129.2 1251.1 1127.4C1253.5 1125.7 1256 1123.9 1258.4 1122.2C1260.9 1120.5 1263.4 1118.8 1265.9 1117.2C1268.4 1115.5 1271 1113.9 1273.5 1112.3C1276 1110.7 1278.6 1109.1 1281.2 1107.6C1283.7 1106.1 1286.3 1104.6 1288.9 1103.1C1291.5 1101.6 1294.1 1100.2 1296.8 1098.8C1299.4 1097.3 1302 1096 1304.7 1094.6C1307.3 1093.2 1310 1091.9 1312.7 1090.6C1315.4 1089.3 1318.1 1088 1320.8 1086.8C1323.5 1085.5 1326.2 1084.3 1328.9 1083.1C1331.7 1081.9 1334.4 1080.7 1337.1 1079.5C1339.9 1078.4 1342.7 1077.3 1345.4 1076.1C1348.2 1075 1351 1073.9 1353.8 1072.9C1356.6 1071.8 1359.4 1070.7 1362.2 1069.7C1365 1068.7 1367.8 1067.6 1370.6 1066.6C1373.5 1065.6 1376.3 1064.7 1379.1 1063.7C1382 1062.7 1384.8 1061.8 1387.7 1060.8C1390.5 1059.9 1393.4 1059 1396.2 1058.1C1399.1 1057.2 1402 1056.3 1404.9 1055.4C1407.7 1054.5 1410.6 1053.6 1413.5 1052.8C1416.4 1051.9 1419.3 1051.1 1422.2 1050.2C1425.1 1049.4 1428 1048.6 1430.9 1047.8C1433.8 1046.9 1436.7 1046.1 1439.6 1045.3C1442.5 1044.5 1445.4 1043.7 1448.3 1043C1451.2 1042.2 1454.1 1041.4 1457 1040.6C1459.9 1039.8 1462.9 1039.1 1465.8 1038.3C1468.7 1037.5 1471.6 1036.8 1474.5 1036C1477.4 1035.2 1480.3 1034.5 1483.3 1033.7C1486.2 1033 1489.1 1032.2 1492 1031.5C1494.9 1030.7 1497.8 1030 1500.7 1029.2C1503.7 1028.5 1506.6 1027.8 1509.5 1027C1512.4 1026.3 1515.3 1025.6 1518.2 1024.9C1521.1 1024.1 1524.1 1023.4 1527 1022.7C1529.9 1022 1532.8 1021.3 1535.7 1020.5C1538.6 1019.8 1541.6 1019.1 1544.5 1018.4C1547.4 1017.7 1550.3 1017 1553.2 1016.3C1556.2 1015.6 1559.1 1015 1562 1014.3C1564.9 1013.6 1567.8 1012.9 1570.8 1012.2C1573.7 1011.6 1576.6 1010.9 1579.5 1010.2C1582.4 1009.6 1585.4 1008.9 1588.3 1008.2C1591.2 1007.6 1594.1 1006.9 1597.1 1006.3C1600 1005.6 1602.9 1005 1605.8 1004.4C1608.8 1003.7 1611.7 1003.1 1614.6 1002.5C1617.5 1001.8 1620.5 1001.2 1623.4 1000.6C1626.3 1000 1629.3 999.4 1632.2 998.8C1635.1 998.2 1638.1 997.6 1641 997C1643.9 996.4 1646.9 995.8 1649.8 995.2C1652.7 994.6 1655.7 994.1 1658.6 993.5C1661.6 992.9 1664.5 992.3 1667.4 991.8C1670.4 991.2 1673.3 990.7 1676.3 990.1C1679.2 989.6 1682.2 989 1685.1 988.5C1688.1 988 1691 987.4 1694 986.9C1696.9 986.4 1699.9 985.9 1702.8 985.4C1705.8 984.9 1708.7 984.4 1711.7 983.9C1714.6 983.4 1717.6 982.9 1720.5 982.4C1723.5 981.9 1726.5 981.4 1729.4 981C1732.4 980.5 1735.3 980 1738.3 979.6C1741.3 979.1 1744.2 978.7 1747.2 978.2C1750.2 977.8 1753.1 977.3 1756.1 976.9C1759.1 976.5 1762.1 976.1 1765 975.6C1768 975.2 1771 974.8 1774 974.4C1776.9 974 1779.9 973.6 1782.9 973.2C1785.9 972.9 1788.9 972.5 1791.9 972.1C1794.9 971.7 1797.8 971.4 1800.8 971C1803.8 970.7 1806.8 970.3 1809.8 970C1812.8 969.7 1815.8 969.3 1818.8 969L1818.8 1176C1809.2 1181.2 1799.3 1185.8 1790 1191.5C1783 1195.8 1776.4 1200.9 1770 1206.1C1764.7 1210.4 1760 1215.2 1755 1219.8Z" fill="#00FFCC"/>
<path class="g" d="M1212.6 748.9V1219.8M1364.1 748.9V1219.8M1515.7 748.9V1219.8M1667.2 748.9V1219.8"/>
<path class="g" d="M1068.6 866.2H1818.8M1068.6 983.9H1818.8M1068.6 1101.7H1818.8"/>
</g>
<text class="cl" transform="translate(1087.5 1208) rotate(-78)" y="7.8">0.1</text>
<text class="cl" transform="translate(1097 1216) rotate(-85)" y="7.8">0.3</text>
<text class="cl" transform="translate(1110 1208.5) rotate(-80)" y="7.8">0.8</text>
<text class="cl" transform="translate(1280 960.5) rotate(-28)" y="7.8">0.1</text>
<text class="cl" transform="translate(1581.2 790) rotate(-30)" y="7.8">0.1</text>
<text class="cl" transform="translate(1326.2 1001.2) rotate(-25)" y="7.8">0.3</text>
<text class="cl" transform="translate(1645 868.8) rotate(-20)" y="7.8">0.3</text>
<text class="cl" transform="translate(1330 1032.5) rotate(-25)" y="7.8">0.5</text>
<text class="cl" transform="translate(1652.5 915.5) rotate(-15)" y="7.8">0.5</text>
<text class="cl" transform="translate(1388.8 1041.2) rotate(-20)" y="7.8">0.8</text>
<text class="cl" transform="translate(1720 950) rotate(-12)" y="7.8">0.8</text>
<text class="cl" transform="translate(1306.2 1093.8) rotate(-25)" y="7.8">1</text>
<text class="cl" transform="translate(1638.8 1000) rotate(-12)" y="7.8">1</text>
<text class="cl" transform="translate(1317 1107.5) rotate(-22)" y="7.8">1.2</text>
<text class="cl" transform="translate(1653.8 1041.8) rotate(-2)" y="7.8">1.2</text>
<text class="cl" transform="translate(1448.8 1112.5) rotate(8)" y="7.8">1.5</text>
<text class="cl" transform="translate(1802.5 1181) rotate(-30)" y="7.8">1</text>
<g clip-path="url(#clip-d)">
<path class="b" d="M1092 1183C1092.7 1180 1093.3 1177 1094 1174C1094.6 1171 1095.3 1168.1 1096 1165.1C1096.7 1162.2 1097.4 1159.3 1098.1 1156.3C1098.8 1153.4 1099.6 1150.5 1100.3 1147.6C1101.1 1144.7 1101.8 1141.9 1102.6 1139C1103.3 1136.1 1104.1 1133.2 1104.9 1130.3C1105.7 1127.4 1106.4 1124.5 1107.2 1121.6C1108 1118.7 1108.8 1115.8 1109.6 1112.9C1110.4 1110 1111.2 1107.1 1111.9 1104.1C1112.7 1101.2 1113.5 1098.2 1114.3 1095.3C1115.1 1092.3 1115.8 1089.3 1116.6 1086.3C1117.4 1083.3 1118.2 1080.3 1119.1 1077.3C1120 1074.4 1120.9 1071.4 1121.9 1068.5C1122.9 1065.6 1123.9 1062.8 1125.1 1059.9C1126.2 1057.1 1127.4 1054.4 1128.8 1051.7C1130.1 1049 1131.5 1046.4 1133.1 1043.9C1134.7 1041.4 1136.4 1039 1138.3 1036.7C1140.1 1034.4 1142.1 1032.2 1144.2 1030.1C1146.2 1028 1148.5 1026 1150.8 1024.2C1153.1 1022.3 1155.5 1020.6 1158 1019C1160.5 1017.3 1163.2 1015.9 1165.8 1014.5C1168.5 1013.1 1171.3 1011.8 1174 1010.5C1176.8 1009.2 1179.6 1008.1 1182.4 1006.9C1185.3 1005.7 1188.1 1004.6 1190.9 1003.4C1193.7 1002.3 1196.6 1001.2 1199.4 1000.1C1202.3 998.9 1205.1 997.8 1207.9 996.7C1210.7 995.6 1213.5 994.4 1216.3 993.2C1219.1 992.1 1221.9 990.9 1224.7 989.6C1227.4 988.4 1230.2 987.1 1232.9 985.8C1235.6 984.4 1238.3 983.1 1240.9 981.6C1243.5 980.1 1246.1 978.6 1248.7 977C1251.3 975.4 1253.7 973.6 1256.2 971.9"/>
<path class="b" d="M1303.8 944.5C1306.4 943 1309 941.6 1311.7 940.1C1314.3 938.6 1317 937.2 1319.6 935.7C1322.2 934.2 1324.9 932.7 1327.5 931.3C1330.1 929.8 1332.8 928.3 1335.4 926.8C1338 925.3 1340.7 923.8 1343.3 922.3C1345.9 920.8 1348.5 919.3 1351.2 917.8C1353.8 916.3 1356.4 914.8 1359 913.3C1361.7 911.8 1364.3 910.3 1366.9 908.8C1369.5 907.3 1372.1 905.8 1374.8 904.2C1377.4 902.7 1380 901.2 1382.6 899.7C1385.2 898.2 1387.8 896.7 1390.5 895.2C1393.1 893.6 1395.7 892.1 1398.3 890.6C1400.9 889.1 1403.5 887.6 1406.2 886.1C1408.8 884.6 1411.4 883.1 1414 881.5C1416.6 880 1419.3 878.5 1421.9 877C1424.5 875.5 1427.1 874 1429.7 872.5C1432.4 871 1435 869.5 1437.6 868C1440.2 866.5 1442.9 865 1445.5 863.5C1448.1 862 1450.8 860.5 1453.4 859C1456 857.5 1458.7 856.1 1461.3 854.6C1463.9 853.1 1466.6 851.6 1469.2 850.2C1471.8 848.7 1474.5 847.2 1477.1 845.8C1479.8 844.3 1482.4 842.8 1485.1 841.4C1487.7 839.9 1490.4 838.5 1493 837C1495.7 835.6 1498.4 834.2 1501 832.7C1503.7 831.3 1506.3 829.9 1509 828.5C1511.7 827 1514.4 825.6 1517 824.2C1519.7 822.8 1522.4 821.4 1525.1 820C1527.8 818.6 1530.5 817.3 1533.1 815.9C1535.8 814.5 1538.5 813.2 1541.2 811.8C1543.9 810.4 1546.6 809.1 1549.4 807.7C1552.1 806.4 1554.8 805.1 1557.5 803.8"/>
<path class="b" d="M1603.8 775C1609.2 771.7 1614.6 768.4 1620 765C1628.4 759.7 1636.7 754.3 1645 749"/>
<path class="b" d="M1103 1189.4C1104 1186.6 1105.1 1183.9 1106.1 1181C1107 1178.2 1107.8 1175.3 1108.6 1172.4C1109.4 1169.5 1110.1 1166.6 1110.7 1163.7C1111.4 1160.7 1112 1157.7 1112.6 1154.8C1113.2 1151.8 1113.8 1148.8 1114.4 1145.8C1115.1 1142.8 1115.7 1139.8 1116.3 1136.8C1117 1133.8 1117.7 1130.9 1118.5 1127.9C1119.3 1125 1120.1 1122 1121 1119.1C1122 1116.2 1123 1113.3 1124.2 1110.5C1125.3 1107.7 1126.6 1104.9 1128.1 1102.3C1129.5 1099.7 1131.1 1097.2 1133.1 1095.1C1134.9 1093 1137.1 1091.1 1139.5 1089.6C1141.9 1088.1 1144.6 1087 1147.3 1086.1C1150.2 1085 1153.1 1084.4 1156.1 1083.6C1159 1082.8 1162 1082.1 1164.9 1081.3C1167.9 1080.5 1170.8 1079.7 1173.7 1078.8C1176.6 1077.9 1179.4 1076.9 1182.3 1075.9C1185.1 1074.9 1187.9 1073.9 1190.7 1072.8C1193.5 1071.7 1196.3 1070.6 1199 1069.4C1201.8 1068.3 1204.5 1067 1207.2 1065.8C1209.9 1064.5 1212.6 1063.2 1215.2 1061.8C1217.9 1060.5 1220.5 1059.1 1223.1 1057.6C1225.8 1056.2 1228.4 1054.7 1230.9 1053.2C1233.5 1051.6 1236.1 1050 1238.6 1048.4C1241.2 1046.8 1243.7 1045.1 1246.2 1043.5C1248.7 1041.8 1251.2 1040.1 1253.7 1038.4C1256.2 1036.7 1258.7 1035 1261.3 1033.3C1263.8 1031.7 1266.3 1030 1268.9 1028.4C1271.5 1026.8 1274 1025.3 1276.7 1023.8C1279.3 1022.3 1281.9 1020.8 1284.6 1019.5C1287.3 1018.1 1290 1016.9 1292.8 1015.7C1295.6 1014.5 1298.4 1013.6 1301.2 1012.5"/>
<path class="b" d="M1351.2 986.2C1354 985 1356.7 983.8 1359.5 982.5C1362.2 981.3 1365 980.1 1367.7 978.8C1370.5 977.6 1373.2 976.4 1376 975.1C1378.7 973.9 1381.5 972.7 1384.2 971.5C1387 970.2 1389.7 969 1392.5 967.8C1395.2 966.6 1398 965.4 1400.7 964.1C1403.5 962.9 1406.2 961.7 1409 960.5C1411.8 959.3 1414.5 958.1 1417.3 956.9C1420 955.7 1422.8 954.5 1425.6 953.3C1428.3 952.1 1431.1 950.9 1433.9 949.7C1436.6 948.6 1439.4 947.4 1442.2 946.2C1444.9 945 1447.7 943.8 1450.5 942.7C1453.2 941.5 1456 940.3 1458.8 939.1C1461.6 938 1464.3 936.8 1467.1 935.7C1469.9 934.5 1472.7 933.3 1475.5 932.2C1478.2 931 1481 929.9 1483.8 928.7C1486.6 927.6 1489.4 926.4 1492.2 925.3C1495 924.2 1497.7 923 1500.5 921.9C1503.3 920.8 1506.1 919.6 1508.9 918.5C1511.7 917.4 1514.5 916.3 1517.3 915.2C1520.1 914.1 1522.9 912.9 1525.7 911.8C1528.5 910.7 1531.3 909.6 1534.1 908.5C1536.9 907.4 1539.7 906.3 1542.5 905.3C1545.3 904.2 1548.1 903.1 1550.9 902C1553.8 900.9 1556.6 899.8 1559.4 898.8C1562.2 897.7 1565 896.6 1567.8 895.6C1570.7 894.5 1573.5 893.5 1576.3 892.4C1579.1 891.4 1581.9 890.3 1584.8 889.3C1587.6 888.2 1590.4 887.2 1593.2 886.2C1596.1 885.1 1598.9 884.1 1601.7 883.1C1604.6 882.1 1607.4 881 1610.2 880C1613.1 879 1615.9 878 1618.8 877"/>
<path class="b" d="M1670 858C1686.7 852 1703.4 846.1 1720 840C1736.7 833.9 1753.3 827.4 1770 821.2C1786.2 815.3 1802.4 809.4 1818.6 803.5"/>
<path class="b" d="M1105.6 1220C1106 1216.9 1106.4 1213.7 1106.9 1210.6C1107.3 1207.6 1107.8 1204.6 1108.2 1201.5C1108.7 1198.6 1109.2 1195.6 1109.7 1192.7C1110.2 1189.8 1110.7 1186.9 1111.3 1184C1111.8 1181.1 1112.4 1178.2 1113 1175.3C1113.7 1172.3 1114.3 1169.4 1115 1166.5C1115.8 1163.5 1116.5 1160.5 1117.3 1157.5C1118.1 1154.4 1118.9 1151.2 1119.8 1148.2C1120.8 1145 1121.6 1141.7 1122.8 1138.7C1124 1135.8 1125.1 1132.8 1127 1130.4C1128.7 1128.2 1130.8 1126.1 1133.4 1124.9C1136 1123.7 1139.1 1123.7 1142 1123.6C1145.2 1123.4 1148.3 1124.1 1151.5 1124.1C1154.5 1124.1 1157.5 1123.8 1160.5 1123.3C1163.5 1122.9 1166.3 1122.1 1169.2 1121.3C1172 1120.4 1174.8 1119.4 1177.5 1118.2C1180.3 1117 1183 1115.6 1185.6 1114.2C1188.3 1112.8 1190.9 1111.3 1193.5 1109.7C1196.1 1108.1 1198.7 1106.4 1201.2 1104.7C1203.8 1103 1206.4 1101.3 1208.9 1099.6C1211.5 1097.9 1214 1096.1 1216.6 1094.5C1219.2 1092.8 1221.7 1091.1 1224.3 1089.4C1226.9 1087.8 1229.5 1086.1 1232.1 1084.5C1234.6 1082.8 1237.2 1081.2 1239.8 1079.6C1242.4 1078 1245 1076.4 1247.6 1074.8C1250.2 1073.2 1252.8 1071.7 1255.5 1070.1C1258.1 1068.6 1260.7 1067 1263.4 1065.5C1266 1064 1268.7 1062.5 1271.3 1061C1274 1059.5 1276.6 1058.1 1279.3 1056.6C1282 1055.2 1284.7 1053.7 1287.4 1052.3C1290.1 1050.9 1292.8 1049.5 1295.5 1048.1C1298.3 1046.7 1301 1045.4 1303.8 1044"/>
<path class="b" d="M1355 1018.8C1357.7 1017.5 1360.5 1016.2 1363.2 1015C1365.9 1013.7 1368.7 1012.5 1371.4 1011.3C1374.1 1010 1376.9 1008.8 1379.6 1007.6C1382.4 1006.4 1385.1 1005.2 1387.9 1004C1390.6 1002.8 1393.4 1001.6 1396.1 1000.4C1398.9 999.3 1401.7 998.1 1404.4 996.9C1407.2 995.8 1410 994.6 1412.8 993.5C1415.5 992.3 1418.3 991.2 1421.1 990.1C1423.9 989 1426.7 987.8 1429.5 986.7C1432.2 985.6 1435 984.5 1437.8 983.4C1440.6 982.3 1443.4 981.3 1446.2 980.2C1449 979.1 1451.8 978.1 1454.6 977C1457.5 975.9 1460.3 974.9 1463.1 973.8C1465.9 972.8 1468.7 971.8 1471.5 970.8C1474.3 969.7 1477.2 968.7 1480 967.7C1482.8 966.7 1485.7 965.7 1488.5 964.7C1491.3 963.7 1494.2 962.7 1497 961.7C1499.8 960.8 1502.7 959.8 1505.5 958.8C1508.4 957.9 1511.2 956.9 1514 956C1516.9 955 1519.7 954.1 1522.6 953.1C1525.4 952.2 1528.3 951.3 1531.2 950.4C1534 949.4 1536.9 948.5 1539.7 947.6C1542.6 946.7 1545.5 945.8 1548.3 944.9C1551.2 944 1554.1 943.2 1556.9 942.3C1559.8 941.4 1562.7 940.5 1565.6 939.7C1568.4 938.8 1571.3 937.9 1574.2 937.1C1577.1 936.2 1580 935.4 1582.8 934.6C1585.7 933.7 1588.6 932.9 1591.5 932.1C1594.4 931.3 1597.3 930.4 1600.2 929.6C1603.1 928.8 1606 928 1608.9 927.2C1611.8 926.4 1614.7 925.6 1617.5 924.8C1620.4 924.1 1623.3 923.3 1626.2 922.5"/>
<path class="b" d="M1680 906.5C1693.3 902.8 1706.7 899.2 1720 895.5C1736.7 890.8 1753.3 885.9 1770 881.2C1786.2 876.7 1802.4 872.4 1818.6 868"/>
<path class="b" d="M1117.5 1183C1118.5 1179.8 1118.9 1176.5 1120.4 1173.5C1121.7 1171 1123.4 1168.4 1125.9 1166.8C1128 1165.5 1130.7 1165.1 1133.2 1165.4C1136.2 1165.7 1138.8 1167.4 1141.6 1168.6C1144.5 1169.8 1147.2 1171.8 1150.3 1172.5C1153 1173.2 1156 1173.2 1158.8 1172.8C1161.7 1172.3 1164.4 1171.1 1167 1169.9C1169.8 1168.6 1172.4 1167 1175 1165.5C1177.6 1164 1180.2 1162.3 1182.7 1160.7C1185.3 1159.1 1187.8 1157.4 1190.3 1155.6C1192.8 1153.9 1195.2 1152.1 1197.7 1150.4C1200.1 1148.6 1202.5 1146.7 1204.9 1144.9C1207.3 1143.1 1209.7 1141.2 1212.1 1139.3C1214.5 1137.4 1216.8 1135.5 1219.2 1133.7C1221.6 1131.8 1223.9 1129.9 1226.3 1128C1228.6 1126.1 1231 1124.2 1233.4 1122.3C1235.7 1120.4 1238.1 1118.6 1240.5 1116.7C1242.9 1114.9 1245.3 1113.1 1247.7 1111.3C1250.1 1109.5 1252.6 1107.7 1255 1106C1257.5 1104.3 1260 1102.6 1262.5 1101C1265 1099.4 1267.6 1097.8 1270.1 1096.2C1272.7 1094.6 1275.3 1093.1 1277.9 1091.6C1280.5 1090.2 1283.2 1088.7 1285.8 1087.3C1288.5 1085.9 1291.2 1084.5 1293.8 1083.1C1296.5 1081.8 1299.2 1080.4 1302 1079.1C1304.7 1077.8 1307.4 1076.5 1310.2 1075.3C1312.9 1074 1315.7 1072.7 1318.4 1071.5C1321.2 1070.3 1323.9 1069.1 1326.7 1067.9C1329.5 1066.7 1332.3 1065.5 1335 1064.3C1337.8 1063.1 1340.6 1061.9 1343.4 1060.7C1346.1 1059.6 1348.9 1058.4 1351.7 1057.2C1354.5 1056.1 1357.2 1054.9 1360 1053.8"/>
<path class="b" d="M1413.8 1031.2C1416.6 1030.3 1419.5 1029.3 1422.4 1028.4C1425.2 1027.5 1428.1 1026.5 1431 1025.6C1433.9 1024.7 1436.7 1023.7 1439.6 1022.8C1442.5 1021.9 1445.4 1021 1448.3 1020.1C1451.1 1019.2 1454 1018.3 1456.9 1017.4C1459.8 1016.5 1462.7 1015.6 1465.6 1014.7C1468.5 1013.8 1471.4 1012.9 1474.3 1012.1C1477.2 1011.2 1480 1010.3 1482.9 1009.5C1485.8 1008.6 1488.7 1007.7 1491.6 1006.9C1494.5 1006 1497.4 1005.2 1500.3 1004.3C1503.2 1003.5 1506.2 1002.7 1509.1 1001.8C1512 1001 1514.9 1000.2 1517.8 999.4C1520.7 998.5 1523.6 997.7 1526.5 996.9C1529.4 996.1 1532.3 995.3 1535.3 994.5C1538.2 993.7 1541.1 992.9 1544 992.1C1546.9 991.3 1549.8 990.5 1552.8 989.7C1555.7 989 1558.6 988.2 1561.5 987.4C1564.4 986.6 1567.4 985.9 1570.3 985.1C1573.2 984.4 1576.1 983.6 1579.1 982.8C1582 982.1 1584.9 981.3 1587.9 980.6C1590.8 979.8 1593.7 979.1 1596.7 978.4C1599.6 977.6 1602.5 976.9 1605.4 976.2C1608.4 975.4 1611.3 974.7 1614.3 974C1617.2 973.3 1620.1 972.6 1623.1 971.8C1626 971.1 1628.9 970.4 1631.9 969.7C1634.8 969 1637.8 968.3 1640.7 967.6C1643.6 966.9 1646.6 966.2 1649.5 965.6C1652.5 964.9 1655.4 964.2 1658.4 963.5C1661.3 962.8 1664.3 962.1 1667.2 961.5C1670.2 960.8 1673.1 960.1 1676.1 959.5C1679 958.8 1681.9 958.1 1684.9 957.5C1687.8 956.8 1690.8 956.2 1693.8 955.5"/>
<path class="b" d="M1747.5 944C1759.2 941.7 1770.8 939.4 1782.5 937C1794.5 934.5 1806.6 932 1818.6 929.5"/>
<path class="b" d="M1118.8 1220C1119.2 1217.5 1118.7 1214.7 1120.1 1212.6C1121.1 1211.1 1123.2 1210.3 1125.1 1210.3C1127 1210.3 1129.1 1211.3 1130.2 1212.8C1131.7 1214.8 1131.4 1217.6 1132 1220"/>
<path class="b" d="M1170 1220C1172.1 1217.7 1174.2 1215.4 1176.3 1213.2C1178.4 1210.9 1180.5 1208.7 1182.7 1206.5C1184.8 1204.3 1187 1202.1 1189.2 1199.9C1191.4 1197.8 1193.7 1195.6 1195.9 1193.5C1198.2 1191.4 1200.4 1189.3 1202.7 1187.2C1205 1185.1 1207.3 1183 1209.6 1181C1211.9 1178.9 1214.3 1176.9 1216.6 1174.9C1218.9 1172.8 1221.3 1170.8 1223.7 1168.8C1226.1 1166.9 1228.5 1164.9 1230.9 1162.9C1233.3 1161 1235.7 1159 1238.1 1157.1C1240.5 1155.2 1243 1153.2 1245.4 1151.3C1247.8 1149.4 1250.3 1147.5 1252.7 1145.6C1255.2 1143.8 1257.7 1141.9 1260.1 1140C1262.6 1138.1 1265.1 1136.3 1267.6 1134.4C1270.1 1132.6 1272.5 1130.8 1275 1128.9C1277.5 1127.1 1280 1125.3 1282.5 1123.4C1285 1121.6 1287.5 1119.8 1290 1118"/>
<path class="b" d="M1342.5 1096.3C1345.3 1095.2 1348.2 1094.2 1351 1093.2C1353.8 1092.1 1356.7 1091.1 1359.5 1090.2C1362.4 1089.2 1365.2 1088.2 1368.1 1087.3C1370.9 1086.3 1373.8 1085.4 1376.7 1084.5C1379.5 1083.5 1382.4 1082.6 1385.3 1081.8C1388.1 1080.9 1391 1080 1393.9 1079.2C1396.8 1078.3 1399.7 1077.5 1402.6 1076.7C1405.5 1075.8 1408.4 1075 1411.3 1074.3C1414.2 1073.5 1417.1 1072.7 1420 1071.9C1422.9 1071.2 1425.8 1070.4 1428.7 1069.7C1431.7 1069 1434.6 1068.3 1437.5 1067.6C1440.4 1066.9 1443.4 1066.2 1446.3 1065.6C1449.2 1064.9 1452.2 1064.3 1455.1 1063.6C1458 1063 1461 1062.4 1463.9 1061.8C1466.9 1061.2 1469.8 1060.6 1472.8 1060C1475.7 1059.4 1478.7 1058.9 1481.6 1058.3C1484.6 1057.8 1487.5 1057.2 1490.5 1056.7C1493.5 1056.2 1496.4 1055.7 1499.4 1055.2C1502.4 1054.7 1505.3 1054.2 1508.3 1053.7C1511.3 1053.3 1514.3 1052.8 1517.2 1052.4C1520.2 1051.9 1523.2 1051.5 1526.2 1051.1C1529.2 1050.7 1532.1 1050.3 1535.1 1049.9C1538.1 1049.5 1541.1 1049.1 1544.1 1048.8C1547.1 1048.4 1550.1 1048.1 1553 1047.7C1556 1047.4 1559 1047 1562 1046.7C1565 1046.4 1568 1046.1 1571 1045.8C1574 1045.5 1577 1045.2 1580 1045C1583 1044.7 1586 1044.4 1589 1044.2C1592 1044 1595 1043.7 1598 1043.5C1601 1043.3 1604 1043.1 1607 1042.8C1610 1042.6 1613 1042.5 1616 1042.3C1619 1042.1 1622 1041.9 1625 1041.8"/>
<path class="b" d="M1681.2 1039.2C1684.4 1039.5 1687.5 1039.8 1690.6 1039.9C1693.6 1040.1 1696.5 1040 1699.5 1040.1C1702.4 1040.1 1705.3 1040 1708.2 1040.1C1711.2 1040.2 1714.1 1040.2 1717 1040.5C1720 1040.8 1723 1041.1 1725.9 1041.7C1729.1 1042.3 1732.2 1043.1 1735.3 1044.1C1738.4 1045.2 1741.5 1046.4 1744.4 1048C1746.9 1049.5 1749.4 1051.1 1751.1 1053.4C1752.4 1055.2 1753.2 1057.7 1753.1 1060C1752.9 1062.6 1751.5 1065.2 1750.1 1067.5C1748.5 1070.3 1746.3 1072.7 1744.1 1075.2C1741.9 1077.7 1739.5 1080 1737.1 1082.3C1734.8 1084.5 1732.5 1086.6 1730.1 1088.7C1727.9 1090.7 1725.6 1092.6 1723.4 1094.6C1721.2 1096.5 1718.9 1098.4 1716.7 1100.3C1714.5 1102.2 1712.2 1104.2 1710 1106.1C1707.8 1108.1 1705.5 1110 1703.3 1112C1701.1 1114 1698.9 1115.9 1696.7 1117.9C1694.4 1119.9 1692.2 1121.9 1690 1123.9C1687.8 1126 1685.6 1128 1683.4 1130C1681.2 1132 1679 1134.1 1676.8 1136.1C1674.6 1138.2 1672.4 1140.3 1670.2 1142.3C1668 1144.4 1665.8 1146.5 1663.7 1148.6C1661.5 1150.7 1659.3 1152.8 1657.1 1154.9C1655 1157 1652.8 1159.1 1650.7 1161.2C1648.5 1163.4 1646.4 1165.5 1644.2 1167.6C1642.1 1169.8 1639.9 1171.9 1637.8 1174.1C1635.7 1176.2 1633.6 1178.4 1631.5 1180.5C1629.4 1182.7 1627.3 1184.9 1625.2 1187C1623.1 1189.2 1621 1191.4 1618.9 1193.6C1616.8 1195.8 1614.8 1198 1612.7 1200.2C1610.7 1202.3 1608.6 1204.5 1606.6 1206.7C1604.5 1208.9 1602.5 1211.2 1600.5 1213.4C1598.5 1215.6 1596.5 1217.8 1594.5 1220"/>
<path class="b" d="M1201 1220C1202.9 1217.7 1204.9 1215.3 1206.8 1213C1208.8 1210.6 1210.8 1208.3 1212.9 1206.1C1214.9 1203.8 1217 1201.5 1219.1 1199.3C1221.2 1197.1 1223.3 1194.9 1225.5 1192.7C1227.6 1190.6 1229.8 1188.4 1232 1186.3C1234.2 1184.2 1236.5 1182.2 1238.8 1180.1C1241 1178.1 1243.3 1176.1 1245.7 1174.1C1248 1172.1 1250.3 1170.2 1252.7 1168.3C1255.1 1166.4 1257.5 1164.5 1259.9 1162.7C1262.4 1160.8 1264.8 1159 1267.3 1157.3C1269.8 1155.5 1272.3 1153.8 1274.9 1152.1C1277.4 1150.5 1280 1148.8 1282.5 1147.2C1285.1 1145.6 1287.7 1144.1 1290.4 1142.6C1293 1141.1 1295.7 1139.6 1298.3 1138.2C1301 1136.8 1303.7 1135.4 1306.4 1134.1C1309.2 1132.8 1311.9 1131.5 1314.7 1130.3C1317.4 1129.1 1320.2 1127.9 1323 1126.8C1325.9 1125.7 1328.7 1124.6 1331.5 1123.6C1334.4 1122.6 1337.3 1121.6 1340.1 1120.7C1343 1119.8 1345.9 1118.9 1348.9 1118.1C1351.8 1117.3 1354.7 1116.5 1357.7 1115.8C1360.6 1115.1 1363.6 1114.4 1366.6 1113.8C1369.5 1113.2 1372.5 1112.6 1375.5 1112.1C1378.5 1111.6 1381.6 1111.1 1384.6 1110.7C1387.6 1110.3 1390.6 1109.9 1393.7 1109.6C1396.7 1109.3 1399.8 1109 1402.8 1108.8C1405.9 1108.6 1409 1108.4 1412 1108.3C1415.1 1108.1 1418.2 1108.1 1421.2 1108"/>
<path class="b" d="M1473.8 1116.2C1476.2 1118.5 1478.9 1120.4 1481.1 1122.9C1483.1 1125.2 1484.9 1127.7 1486.3 1130.4C1487.7 1133 1488.7 1135.7 1489.5 1138.5C1490.3 1141.3 1490.7 1144.2 1491 1147.1C1491.2 1150.1 1491.2 1153.1 1491 1156.1C1490.9 1159.2 1490.5 1162.3 1490 1165.4C1489.5 1168.6 1488.8 1171.7 1488.1 1174.8C1487.4 1178 1486.5 1181.1 1485.6 1184.3C1484.7 1187.4 1483.8 1190.5 1482.8 1193.6C1481.9 1196.7 1481 1199.7 1480.1 1202.8C1479.2 1205.7 1478.3 1208.7 1477.5 1211.6C1476.8 1214.4 1476.2 1217.2 1475.5 1220"/>
<path class="b" d="M1241 1220C1243.1 1217.9 1245.1 1215.7 1247.2 1213.7C1249.4 1211.5 1251.6 1209.4 1253.9 1207.3C1256.3 1205.2 1258.7 1203.1 1261.1 1201.1C1263.6 1199 1266.2 1197 1268.8 1195.1C1271.4 1193.1 1274 1191.3 1276.8 1189.5C1279.5 1187.7 1282.3 1186 1285.1 1184.4C1287.9 1182.9 1290.8 1181.4 1293.7 1180C1296.6 1178.7 1299.6 1177.5 1302.6 1176.5C1305.6 1175.4 1308.6 1174.5 1311.7 1173.8C1314.7 1173.2 1317.8 1172.6 1320.9 1172.3C1324 1172 1327.1 1171.9 1330.2 1172C1333.3 1172.1 1336.4 1172.5 1339.5 1173.1C1342.5 1173.6 1345.5 1174.5 1348.4 1175.5C1351.3 1176.6 1354.2 1177.9 1356.8 1179.5C1359.4 1181.1 1361.9 1182.9 1364.1 1185C1366.4 1187.2 1368.4 1189.5 1370.2 1192.1C1371.9 1194.7 1373.4 1197.5 1374.6 1200.4C1375.8 1203.5 1376.7 1206.6 1377.1 1209.8C1377.6 1213.2 1377.4 1216.6 1377.5 1220"/>
<path class="r" d="M1113.8 1219.8C1113.9 1216.9 1113.8 1213.9 1114.3 1211C1114.9 1207.6 1115.6 1204.3 1116.9 1201.2C1117.9 1198.3 1119.1 1195.4 1121.1 1193.1C1122.6 1191.5 1124.7 1189.8 1127 1189.7C1129.5 1189.5 1131.8 1191.2 1134 1192.4C1136.8 1193.9 1139.1 1196.2 1141.9 1197.7C1144.5 1199.1 1147.2 1200.6 1150.1 1200.9C1152.9 1201.2 1155.7 1200.3 1158.3 1199.3C1161.1 1198.2 1163.6 1196.5 1166.2 1194.9C1168.8 1193.3 1171.2 1191.5 1173.7 1189.7C1176.1 1188 1178.5 1186.1 1180.8 1184.3C1183.2 1182.4 1185.5 1180.5 1187.8 1178.6C1190.1 1176.7 1192.3 1174.7 1194.6 1172.8C1196.9 1170.8 1199.2 1168.9 1201.4 1166.9C1203.7 1165 1206 1163 1208.3 1161.1C1210.6 1159.1 1213 1157.2 1215.3 1155.3C1217.6 1153.4 1220 1151.4 1222.3 1149.5C1224.6 1147.6 1227 1145.7 1229.4 1143.9C1231.7 1142 1234.1 1140.1 1236.5 1138.3C1238.9 1136.4 1241.3 1134.6 1243.8 1132.8C1246.2 1131 1248.6 1129.2 1251.1 1127.4C1253.5 1125.7 1256 1123.9 1258.4 1122.2C1260.9 1120.5 1263.4 1118.8 1265.9 1117.2C1268.4 1115.5 1271 1113.9 1273.5 1112.3C1276 1110.7 1278.6 1109.1 1281.2 1107.6C1283.7 1106.1 1286.3 1104.6 1288.9 1103.1C1291.5 1101.6 1294.1 1100.2 1296.8 1098.8C1299.4 1097.3 1302 1096 1304.7 1094.6C1307.3 1093.2 1310 1091.9 1312.7 1090.6C1315.4 1089.3 1318.1 1088 1320.8 1086.8C1323.5 1085.5 1326.2 1084.3 1328.9 1083.1C1331.7 1081.9 1334.4 1080.7 1337.1 1079.5C1339.9 1078.4 1342.7 1077.3 1345.4 1076.1C1348.2 1075 1351 1073.9 1353.8 1072.9C1356.6 1071.8 1359.4 1070.7 1362.2 1069.7C1365 1068.7 1367.8 1067.6 1370.6 1066.6C1373.5 1065.6 1376.3 1064.7 1379.1 1063.7C1382 1062.7 1384.8 1061.8 1387.7 1060.8C1390.5 1059.9 1393.4 1059 1396.2 1058.1C1399.1 1057.2 1402 1056.3 1404.9 1055.4C1407.7 1054.5 1410.6 1053.6 1413.5 1052.8C1416.4 1051.9 1419.3 1051.1 1422.2 1050.2C1425.1 1049.4 1428 1048.6 1430.9 1047.8C1433.8 1046.9 1436.7 1046.1 1439.6 1045.3C1442.5 1044.5 1445.4 1043.7 1448.3 1043C1451.2 1042.2 1454.1 1041.4 1457 1040.6C1459.9 1039.8 1462.9 1039.1 1465.8 1038.3C1468.7 1037.5 1471.6 1036.8 1474.5 1036C1477.4 1035.2 1480.3 1034.5 1483.3 1033.7C1486.2 1033 1489.1 1032.2 1492 1031.5C1494.9 1030.7 1497.8 1030 1500.7 1029.2C1503.7 1028.5 1506.6 1027.8 1509.5 1027C1512.4 1026.3 1515.3 1025.6 1518.2 1024.9C1521.1 1024.1 1524.1 1023.4 1527 1022.7C1529.9 1022 1532.8 1021.3 1535.7 1020.5C1538.6 1019.8 1541.6 1019.1 1544.5 1018.4C1547.4 1017.7 1550.3 1017 1553.2 1016.3C1556.2 1015.6 1559.1 1015 1562 1014.3C1564.9 1013.6 1567.8 1012.9 1570.8 1012.2C1573.7 1011.6 1576.6 1010.9 1579.5 1010.2C1582.4 1009.6 1585.4 1008.9 1588.3 1008.2C1591.2 1007.6 1594.1 1006.9 1597.1 1006.3C1600 1005.6 1602.9 1005 1605.8 1004.4C1608.8 1003.7 1611.7 1003.1 1614.6 1002.5C1617.5 1001.8 1620.5 1001.2 1623.4 1000.6C1626.3 1000 1629.3 999.4 1632.2 998.8C1635.1 998.2 1638.1 997.6 1641 997C1643.9 996.4 1646.9 995.8 1649.8 995.2C1652.7 994.6 1655.7 994.1 1658.6 993.5C1661.6 992.9 1664.5 992.3 1667.4 991.8C1670.4 991.2 1673.3 990.7 1676.3 990.1C1679.2 989.6 1682.2 989 1685.1 988.5C1688.1 988 1691 987.4 1694 986.9C1696.9 986.4 1699.9 985.9 1702.8 985.4C1705.8 984.9 1708.7 984.4 1711.7 983.9C1714.6 983.4 1717.6 982.9 1720.5 982.4C1723.5 981.9 1726.5 981.4 1729.4 981C1732.4 980.5 1735.3 980 1738.3 979.6C1741.3 979.1 1744.2 978.7 1747.2 978.2C1750.2 977.8 1753.1 977.3 1756.1 976.9C1759.1 976.5 1762.1 976.1 1765 975.6C1768 975.2 1771 974.8 1774 974.4C1776.9 974 1779.9 973.6 1782.9 973.2C1785.9 972.9 1788.9 972.5 1791.9 972.1C1794.9 971.7 1797.8 971.4 1800.8 971C1803.8 970.7 1806.8 970.3 1809.8 970C1812.8 969.7 1815.8 969.3 1818.8 969"/>
<path class="r" d="M1755 1219.8C1760 1215.2 1764.7 1210.4 1770 1206.1C1776.4 1200.9 1783 1195.8 1790 1191.5C1799.3 1185.8 1809.2 1181.2 1818.8 1176"/>
</g>
<path class="ax" d="M1212.6 748.9v11M1212.6 1219.8v-11M1364.1 748.9v11M1364.1 1219.8v-11M1515.7 748.9v11M1515.7 1219.8v-11M1667.2 748.9v11M1667.2 1219.8v-11M1068.6 866.2h11M1818.8 866.2h-11M1068.6 983.9h11M1818.8 983.9h-11M1068.6 1101.7h11M1818.8 1101.7h-11" style="stroke-width:6.7"/>
<rect class="ax" x="1068.6" y="748.9" width="750.2" height="470.9"/>
<text class="tk" text-anchor="middle" x="1212.4" y="1266.7">100</text>
<text class="tk" text-anchor="middle" x="1363.9" y="1266.7">200</text>
<text class="tk" text-anchor="middle" x="1515.5" y="1266.7">300</text>
<text class="tk" text-anchor="middle" x="1667" y="1266.7">400</text>
<text class="tk" text-anchor="middle" x="1818.6" y="1266.7">500</text>
<text class="tk" text-anchor="end" x="1054.1" y="762.2">1</text>
<text class="tk" text-anchor="end" x="1054.1" y="879.5">0.5</text>
<text class="tk" text-anchor="end" x="1054.1" y="997.2">0</text>
<text class="tk" text-anchor="end" x="1054.1" y="1115">-0.5</text>
<text class="tk" text-anchor="end" x="1054.1" y="1233.1">-1</text>
<text class="lb" x="1372.1" y="1328.6">T<tspan class="ls" dy="20.4" dx="0.5">r</tspan><tspan font-size="23" dy="-42.6" dx="-11.3">*</tspan><tspan dy="22.2" dx="2.2"> [keV]</tspan></text>
<text class="lb" text-anchor="middle" transform="translate(959.6 985.1) rotate(-90)">log<tspan class="ls" dy="19.8">10</tspan><tspan dy="-19.8">(T</tspan><tspan class="ls" dy="19.8">2t⊥</tspan><tspan dy="-19.8">/T</tspan><tspan class="ls" dy="19.8" style="letter-spacing:0.2px">1c</tspan><tspan dy="-19.8">)</tspan></text>
<text class="tt" y="719.3"><tspan x="1238.8">(d) f</tspan><tspan class="sb" style="letter-spacing:2.4px" x="1308.8" dy="20.3">&lt;<tspan font-style="italic">σ</tspan>v&gt;pB11</tspan><tspan x="1449" dy="-20.3">,</tspan><tspan x="1475.8">T</tspan><tspan class="sb" x="1496.2" dy="20.3">1b</tspan><tspan x="1535.2" dy="-20.3">/T</tspan><tspan class="sb" x="1570.7" dy="20.3">1c</tspan><tspan x="1603.8" dy="-20.3">=1</tspan></text>
</g>
</svg></body></html>
